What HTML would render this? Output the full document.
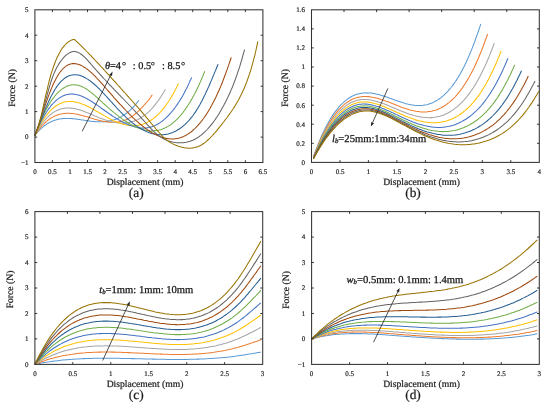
<!DOCTYPE html>
<html><head><meta charset="utf-8"><title>Force-displacement curves</title>
<style>
html,body{margin:0;padding:0;background:#fff;}
svg{display:block;}
text{font-family:"Liberation Serif","Noto Serif CJK SC",serif;fill:#1c1c1c;stroke:#1c1c1c;stroke-width:0.22px;text-rendering:geometricPrecision;}
.t{font-size:7px;stroke-width:0.18px;}
.l{font-size:9.65px;}
.s{font-size:13.4px;}
.an text{font-size:10.3px;fill:#111;stroke:#111;stroke-width:0.25px;}
.cv path{fill:none;stroke-width:1.05;stroke-linejoin:round;stroke-linecap:butt;}
</style></head><body>
<svg width="550" height="407" viewBox="0 0 550 407">
<rect width="550" height="407" fill="#fff"/>
<g class="cv">
<path d="M34.9 364.4L36.5 364.1L38.1 363.7L39.7 363.4L41.4 363.1L43.0 362.8L44.6 362.5L46.2 362.3L47.9 362.0L49.5 361.8L51.1 361.5L52.7 361.3L54.4 361.1L56.0 360.9L57.6 360.7L59.2 360.5L60.9 360.3L62.5 360.1L64.1 360.0L65.8 359.8L67.4 359.7L69.0 359.5L70.6 359.4L72.3 359.3L73.9 359.2L75.5 359.1L77.1 359.0L78.8 358.9L80.4 358.8L82.0 358.7L83.6 358.6L85.3 358.6L86.9 358.5L88.5 358.5L90.2 358.4L91.8 358.4L93.4 358.3L95.0 358.3L96.7 358.3L98.3 358.3L99.9 358.2L101.5 358.2L103.2 358.2L104.8 358.2L106.4 358.2L108.0 358.2L109.7 358.2L111.3 358.2L112.9 358.2L114.5 358.3L116.2 358.3L117.8 358.3L119.4 358.3L121.1 358.4L122.7 358.4L124.3 358.4L125.9 358.4L127.6 358.5L129.2 358.5L130.8 358.6L132.4 358.6L134.1 358.6L135.7 358.7L137.3 358.7L138.9 358.7L140.6 358.8L142.2 358.8L143.8 358.9L145.5 358.9L147.1 359.0L148.7 359.0L150.3 359.0L152.0 359.1L153.6 359.1L155.2 359.1L156.8 359.2L158.5 359.2L160.1 359.2L161.7 359.3L163.3 359.3L165.0 359.3L166.6 359.4L168.2 359.4L169.8 359.4L171.5 359.4L173.1 359.4L174.7 359.4L176.4 359.4L178.0 359.4L179.6 359.4L181.2 359.4L182.9 359.4L184.5 359.4L186.1 359.4L187.7 359.4L189.4 359.3L191.0 359.3L192.6 359.3L194.2 359.2L195.9 359.2L197.5 359.1L199.1 359.1L200.8 359.0L202.4 359.0L204.0 358.9L205.6 358.8L207.3 358.7L208.9 358.6L210.5 358.5L212.1 358.4L213.8 358.3L215.4 358.2L217.0 358.1L218.6 358.0L220.3 357.8L221.9 357.7L223.5 357.5L225.1 357.4L226.8 357.2L228.4 357.0L230.0 356.9L231.7 356.7L233.3 356.5L234.9 356.3L236.5 356.1L238.2 355.8L239.8 355.6L241.4 355.4L243.0 355.1L244.7 354.9L246.3 354.6L247.9 354.3L249.5 354.0L251.2 353.8L252.8 353.5L254.4 353.2L256.1 352.9L257.7 352.6L259.3 352.4L260.9 352.1" stroke="#5B9BD5"/>
<path d="M34.9 364.4L36.5 363.7L38.1 363.1L39.7 362.4L41.4 361.8L43.0 361.2L44.6 360.7L46.2 360.1L47.9 359.6L49.5 359.1L51.1 358.6L52.7 358.2L54.4 357.7L56.0 357.3L57.6 356.9L59.2 356.5L60.9 356.2L62.5 355.8L64.1 355.5L65.8 355.2L67.4 354.9L69.0 354.7L70.6 354.4L72.3 354.2L73.9 353.9L75.5 353.7L77.1 353.5L78.8 353.3L80.4 353.2L82.0 353.0L83.6 352.9L85.3 352.8L86.9 352.6L88.5 352.5L90.2 352.4L91.8 352.4L93.4 352.3L95.0 352.2L96.7 352.2L98.3 352.1L99.9 352.1L101.5 352.1L103.2 352.0L104.8 352.0L106.4 352.0L108.0 352.0L109.7 352.0L111.3 352.1L112.9 352.1L114.5 352.1L116.2 352.2L117.8 352.2L119.4 352.3L121.1 352.3L122.7 352.4L124.3 352.4L125.9 352.5L127.6 352.6L129.2 352.6L130.8 352.7L132.4 352.8L134.1 352.9L135.7 352.9L137.3 353.0L138.9 353.1L140.6 353.2L142.2 353.3L143.8 353.3L145.5 353.4L147.1 353.5L148.7 353.6L150.3 353.7L152.0 353.7L153.6 353.8L155.2 353.9L156.8 354.0L158.5 354.0L160.1 354.1L161.7 354.1L163.3 354.2L165.0 354.3L166.6 354.3L168.2 354.3L169.8 354.4L171.5 354.4L173.1 354.4L174.7 354.5L176.4 354.5L178.0 354.5L179.6 354.5L181.2 354.5L182.9 354.4L184.5 354.4L186.1 354.4L187.7 354.3L189.4 354.3L191.0 354.2L192.6 354.2L194.2 354.1L195.9 354.0L197.5 353.9L199.1 353.8L200.8 353.7L202.4 353.5L204.0 353.4L205.6 353.2L207.3 353.1L208.9 352.9L210.5 352.7L212.1 352.5L213.8 352.3L215.4 352.0L217.0 351.8L218.6 351.5L220.3 351.3L221.9 351.0L223.5 350.7L225.1 350.4L226.8 350.0L228.4 349.7L230.0 349.3L231.7 349.0L233.3 348.6L234.9 348.1L236.5 347.7L238.2 347.3L239.8 346.8L241.4 346.3L243.0 345.8L244.7 345.3L246.3 344.8L247.9 344.2L249.5 343.7L251.2 343.1L252.8 342.6L254.4 342.0L256.1 341.4L257.7 340.9L259.3 340.3L260.9 339.7" stroke="#ED7D31"/>
<path d="M34.9 364.4L36.5 363.4L38.1 362.4L39.7 361.4L41.4 360.5L43.0 359.6L44.6 358.8L46.2 358.0L47.9 357.2L49.5 356.5L51.1 355.7L52.7 355.1L54.4 354.4L56.0 353.8L57.6 353.2L59.2 352.6L60.9 352.1L62.5 351.6L64.1 351.1L65.8 350.6L67.4 350.2L69.0 349.8L70.6 349.4L72.3 349.0L73.9 348.7L75.5 348.4L77.1 348.1L78.8 347.8L80.4 347.6L82.0 347.3L83.6 347.1L85.3 346.9L86.9 346.8L88.5 346.6L90.2 346.5L91.8 346.3L93.4 346.2L95.0 346.1L96.7 346.0L98.3 346.0L99.9 345.9L101.5 345.9L103.2 345.9L104.8 345.8L106.4 345.8L108.0 345.9L109.7 345.9L111.3 345.9L112.9 345.9L114.5 346.0L116.2 346.0L117.8 346.1L119.4 346.2L121.1 346.3L122.7 346.3L124.3 346.4L125.9 346.5L127.6 346.6L129.2 346.7L130.8 346.9L132.4 347.0L134.1 347.1L135.7 347.2L137.3 347.3L138.9 347.4L140.6 347.6L142.2 347.7L143.8 347.8L145.5 347.9L147.1 348.1L148.7 348.2L150.3 348.3L152.0 348.4L153.6 348.5L155.2 348.6L156.8 348.7L158.5 348.8L160.1 348.9L161.7 349.0L163.3 349.1L165.0 349.2L166.6 349.3L168.2 349.3L169.8 349.4L171.5 349.4L173.1 349.4L174.7 349.5L176.4 349.5L178.0 349.5L179.6 349.5L181.2 349.5L182.9 349.5L184.5 349.4L186.1 349.4L187.7 349.3L189.4 349.2L191.0 349.1L192.6 349.0L194.2 348.9L195.9 348.8L197.5 348.6L199.1 348.5L200.8 348.3L202.4 348.1L204.0 347.9L205.6 347.6L207.3 347.4L208.9 347.1L210.5 346.8L212.1 346.5L213.8 346.2L215.4 345.9L217.0 345.5L218.6 345.1L220.3 344.7L221.9 344.3L223.5 343.8L225.1 343.4L226.8 342.9L228.4 342.3L230.0 341.8L231.7 341.2L233.3 340.6L234.9 340.0L236.5 339.4L238.2 338.7L239.8 338.0L241.4 337.3L243.0 336.5L244.7 335.8L246.3 335.0L247.9 334.2L249.5 333.3L251.2 332.5L252.8 331.7L254.4 330.8L256.1 330.0L257.7 329.1L259.3 328.3L260.9 327.4" stroke="#A5A5A5"/>
<path d="M34.9 364.4L36.5 363.0L38.1 361.7L39.7 360.5L41.4 359.2L43.0 358.1L44.6 356.9L46.2 355.8L47.9 354.8L49.5 353.8L51.1 352.9L52.7 351.9L54.4 351.1L56.0 350.2L57.6 349.4L59.2 348.7L60.9 348.0L62.5 347.3L64.1 346.6L65.8 346.0L67.4 345.5L69.0 344.9L70.6 344.4L72.3 343.9L73.9 343.5L75.5 343.0L77.1 342.7L78.8 342.3L80.4 342.0L82.0 341.7L83.6 341.4L85.3 341.1L86.9 340.9L88.5 340.7L90.2 340.5L91.8 340.3L93.4 340.2L95.0 340.0L96.7 339.9L98.3 339.8L99.9 339.8L101.5 339.7L103.2 339.7L104.8 339.7L106.4 339.7L108.0 339.7L109.7 339.7L111.3 339.7L112.9 339.8L114.5 339.9L116.2 339.9L117.8 340.0L119.4 340.1L121.1 340.2L122.7 340.3L124.3 340.4L125.9 340.6L127.6 340.7L129.2 340.9L130.8 341.0L132.4 341.2L134.1 341.3L135.7 341.5L137.3 341.6L138.9 341.8L140.6 342.0L142.2 342.1L143.8 342.3L145.5 342.5L147.1 342.6L148.7 342.8L150.3 342.9L152.0 343.1L153.6 343.2L155.2 343.4L156.8 343.5L158.5 343.7L160.1 343.8L161.7 343.9L163.3 344.0L165.0 344.1L166.6 344.2L168.2 344.3L169.8 344.4L171.5 344.4L173.1 344.5L174.7 344.5L176.4 344.5L178.0 344.5L179.6 344.5L181.2 344.5L182.9 344.5L184.5 344.4L186.1 344.4L187.7 344.3L189.4 344.2L191.0 344.0L192.6 343.9L194.2 343.8L195.9 343.6L197.5 343.4L199.1 343.2L200.8 342.9L202.4 342.7L204.0 342.4L205.6 342.1L207.3 341.7L208.9 341.4L210.5 341.0L212.1 340.6L213.8 340.2L215.4 339.7L217.0 339.2L218.6 338.7L220.3 338.1L221.9 337.6L223.5 337.0L225.1 336.3L226.8 335.7L228.4 335.0L230.0 334.3L231.7 333.5L233.3 332.7L234.9 331.9L236.5 331.0L238.2 330.1L239.8 329.2L241.4 328.3L243.0 327.3L244.7 326.2L246.3 325.2L247.9 324.1L249.5 323.0L251.2 321.9L252.8 320.7L254.4 319.6L256.1 318.5L257.7 317.3L259.3 316.2L260.9 315.1" stroke="#FFC000"/>
<path d="M34.9 364.4L36.5 362.7L38.1 361.0L39.7 359.5L41.4 357.9L43.0 356.5L44.6 355.1L46.2 353.7L47.9 352.4L49.5 351.2L51.1 350.0L52.7 348.8L54.4 347.7L56.0 346.7L57.6 345.7L59.2 344.8L60.9 343.9L62.5 343.0L64.1 342.2L65.8 341.4L67.4 340.7L69.0 340.0L70.6 339.4L72.3 338.8L73.9 338.2L75.5 337.7L77.1 337.2L78.8 336.8L80.4 336.4L82.0 336.0L83.6 335.6L85.3 335.3L86.9 335.0L88.5 334.7L90.2 334.5L91.8 334.3L93.4 334.1L95.0 333.9L96.7 333.8L98.3 333.7L99.9 333.6L101.5 333.6L103.2 333.5L104.8 333.5L106.4 333.5L108.0 333.5L109.7 333.5L111.3 333.6L112.9 333.6L114.5 333.7L116.2 333.8L117.8 333.9L119.4 334.0L121.1 334.2L122.7 334.3L124.3 334.5L125.9 334.6L127.6 334.8L129.2 335.0L130.8 335.2L132.4 335.3L134.1 335.5L135.7 335.7L137.3 335.9L138.9 336.1L140.6 336.3L142.2 336.6L143.8 336.8L145.5 337.0L147.1 337.2L148.7 337.4L150.3 337.6L152.0 337.8L153.6 337.9L155.2 338.1L156.8 338.3L158.5 338.5L160.1 338.6L161.7 338.8L163.3 338.9L165.0 339.0L166.6 339.2L168.2 339.3L169.8 339.3L171.5 339.4L173.1 339.5L174.7 339.5L176.4 339.6L178.0 339.6L179.6 339.6L181.2 339.5L182.9 339.5L184.5 339.4L186.1 339.3L187.7 339.2L189.4 339.1L191.0 339.0L192.6 338.8L194.2 338.6L195.9 338.4L197.5 338.1L199.1 337.8L200.8 337.5L202.4 337.2L204.0 336.9L205.6 336.5L207.3 336.1L208.9 335.6L210.5 335.1L212.1 334.6L213.8 334.1L215.4 333.5L217.0 332.9L218.6 332.3L220.3 331.6L221.9 330.9L223.5 330.1L225.1 329.3L226.8 328.5L228.4 327.6L230.0 326.7L231.7 325.8L233.3 324.8L234.9 323.8L236.5 322.7L238.2 321.6L239.8 320.4L241.4 319.2L243.0 318.0L244.7 316.7L246.3 315.4L247.9 314.0L249.5 312.6L251.2 311.2L252.8 309.8L254.4 308.4L256.1 307.0L257.7 305.6L259.3 304.2L260.9 302.8" stroke="#4472C4"/>
<path d="M34.9 364.4L36.5 362.4L38.1 360.4L39.7 358.5L41.4 356.6L43.0 354.9L44.6 353.2L46.2 351.6L47.9 350.0L49.5 348.5L51.1 347.1L52.7 345.7L54.4 344.4L56.0 343.2L57.6 342.0L59.2 340.8L60.9 339.8L62.5 338.7L64.1 337.8L65.8 336.8L67.4 336.0L69.0 335.2L70.6 334.4L72.3 333.7L73.9 333.0L75.5 332.4L77.1 331.8L78.8 331.2L80.4 330.7L82.0 330.3L83.6 329.9L85.3 329.5L86.9 329.1L88.5 328.8L90.2 328.5L91.8 328.3L93.4 328.0L95.0 327.9L96.7 327.7L98.3 327.6L99.9 327.5L101.5 327.4L103.2 327.3L104.8 327.3L106.4 327.3L108.0 327.3L109.7 327.3L111.3 327.4L112.9 327.5L114.5 327.6L116.2 327.7L117.8 327.8L119.4 328.0L121.1 328.1L122.7 328.3L124.3 328.5L125.9 328.7L127.6 328.9L129.2 329.1L130.8 329.3L132.4 329.5L134.1 329.8L135.7 330.0L137.3 330.2L138.9 330.5L140.6 330.7L142.2 331.0L143.8 331.2L145.5 331.5L147.1 331.7L148.7 332.0L150.3 332.2L152.0 332.4L153.6 332.7L155.2 332.9L156.8 333.1L158.5 333.3L160.1 333.5L161.7 333.6L163.3 333.8L165.0 334.0L166.6 334.1L168.2 334.2L169.8 334.3L171.5 334.4L173.1 334.5L174.7 334.6L176.4 334.6L178.0 334.6L179.6 334.6L181.2 334.6L182.9 334.5L184.5 334.4L186.1 334.3L187.7 334.2L189.4 334.1L191.0 333.9L192.6 333.7L194.2 333.4L195.9 333.2L197.5 332.9L199.1 332.5L200.8 332.2L202.4 331.8L204.0 331.4L205.6 330.9L207.3 330.4L208.9 329.9L210.5 329.3L212.1 328.7L213.8 328.0L215.4 327.3L217.0 326.6L218.6 325.8L220.3 325.0L221.9 324.2L223.5 323.3L225.1 322.3L226.8 321.3L228.4 320.3L230.0 319.2L231.7 318.1L233.3 316.9L234.9 315.6L236.5 314.3L238.2 313.0L239.8 311.6L241.4 310.2L243.0 308.7L244.7 307.1L246.3 305.6L247.9 303.9L249.5 302.3L251.2 300.6L252.8 298.9L254.4 297.2L256.1 295.5L257.7 293.8L259.3 292.1L260.9 290.4" stroke="#70AD47"/>
<path d="M34.9 364.4L36.5 362.0L38.1 359.7L39.7 357.5L41.4 355.4L43.0 353.3L44.6 351.3L46.2 349.4L47.9 347.6L49.5 345.9L51.1 344.2L52.7 342.6L54.4 341.1L56.0 339.6L57.6 338.2L59.2 336.9L60.9 335.6L62.5 334.5L64.1 333.3L65.8 332.3L67.4 331.2L69.0 330.3L70.6 329.4L72.3 328.6L73.9 327.8L75.5 327.0L77.1 326.4L78.8 325.7L80.4 325.1L82.0 324.6L83.6 324.1L85.3 323.6L86.9 323.2L88.5 322.9L90.2 322.5L91.8 322.2L93.4 322.0L95.0 321.8L96.7 321.6L98.3 321.4L99.9 321.3L101.5 321.2L103.2 321.1L104.8 321.1L106.4 321.1L108.0 321.1L109.7 321.2L111.3 321.2L112.9 321.3L114.5 321.4L116.2 321.6L117.8 321.7L119.4 321.9L121.1 322.1L122.7 322.3L124.3 322.5L125.9 322.7L127.6 322.9L129.2 323.2L130.8 323.5L132.4 323.7L134.1 324.0L135.7 324.3L137.3 324.6L138.9 324.8L140.6 325.1L142.2 325.4L143.8 325.7L145.5 326.0L147.1 326.3L148.7 326.6L150.3 326.8L152.0 327.1L153.6 327.4L155.2 327.6L156.8 327.9L158.5 328.1L160.1 328.3L161.7 328.5L163.3 328.7L165.0 328.9L166.6 329.1L168.2 329.2L169.8 329.3L171.5 329.4L173.1 329.5L174.7 329.6L176.4 329.6L178.0 329.6L179.6 329.6L181.2 329.6L182.9 329.5L184.5 329.4L186.1 329.3L187.7 329.2L189.4 329.0L191.0 328.8L192.6 328.5L194.2 328.3L195.9 328.0L197.5 327.6L199.1 327.2L200.8 326.8L202.4 326.3L204.0 325.8L205.6 325.3L207.3 324.7L208.9 324.1L210.5 323.4L212.1 322.7L213.8 322.0L215.4 321.2L217.0 320.3L218.6 319.4L220.3 318.5L221.9 317.5L223.5 316.4L225.1 315.3L226.8 314.1L228.4 312.9L230.0 311.7L231.7 310.3L233.3 308.9L234.9 307.5L236.5 306.0L238.2 304.4L239.8 302.8L241.4 301.1L243.0 299.4L244.7 297.6L246.3 295.7L247.9 293.9L249.5 291.9L251.2 290.0L252.8 288.0L254.4 286.0L256.1 284.0L257.7 282.1L259.3 280.1L260.9 278.1" stroke="#255E91"/>
<path d="M34.9 364.4L36.5 361.7L38.1 359.0L39.7 356.5L41.4 354.1L43.0 351.7L44.6 349.5L46.2 347.3L47.9 345.2L49.5 343.2L51.1 341.3L52.7 339.5L54.4 337.7L56.0 336.1L57.6 334.5L59.2 333.0L60.9 331.5L62.5 330.2L64.1 328.9L65.8 327.7L67.4 326.5L69.0 325.4L70.6 324.4L72.3 323.4L73.9 322.5L75.5 321.7L77.1 320.9L78.8 320.2L80.4 319.5L82.0 318.9L83.6 318.3L85.3 317.8L86.9 317.4L88.5 316.9L90.2 316.6L91.8 316.2L93.4 315.9L95.0 315.7L96.7 315.5L98.3 315.3L99.9 315.1L101.5 315.0L103.2 315.0L104.8 314.9L106.4 314.9L108.0 314.9L109.7 315.0L111.3 315.1L112.9 315.2L114.5 315.3L116.2 315.5L117.8 315.6L119.4 315.8L121.1 316.0L122.7 316.3L124.3 316.5L125.9 316.8L127.6 317.0L129.2 317.3L130.8 317.6L132.4 317.9L134.1 318.2L135.7 318.5L137.3 318.9L138.9 319.2L140.6 319.5L142.2 319.8L143.8 320.2L145.5 320.5L147.1 320.8L148.7 321.2L150.3 321.5L152.0 321.8L153.6 322.1L155.2 322.4L156.8 322.6L158.5 322.9L160.1 323.2L161.7 323.4L163.3 323.6L165.0 323.8L166.6 324.0L168.2 324.2L169.8 324.3L171.5 324.4L173.1 324.5L174.7 324.6L176.4 324.6L178.0 324.7L179.6 324.7L181.2 324.6L182.9 324.5L184.5 324.4L186.1 324.3L187.7 324.1L189.4 323.9L191.0 323.7L192.6 323.4L194.2 323.1L195.9 322.8L197.5 322.4L199.1 321.9L200.8 321.4L202.4 320.9L204.0 320.3L205.6 319.7L207.3 319.1L208.9 318.3L210.5 317.6L212.1 316.8L213.8 315.9L215.4 315.0L217.0 314.0L218.6 313.0L220.3 311.9L221.9 310.7L223.5 309.5L225.1 308.3L226.8 307.0L228.4 305.6L230.0 304.1L231.7 302.6L233.3 301.0L234.9 299.4L236.5 297.7L238.2 295.9L239.8 294.0L241.4 292.1L243.0 290.1L244.7 288.1L246.3 285.9L247.9 283.8L249.5 281.6L251.2 279.3L252.8 277.1L254.4 274.8L256.1 272.6L257.7 270.3L259.3 268.0L260.9 265.8" stroke="#9E480E"/>
<path d="M34.9 364.4L36.5 361.3L38.1 358.4L39.7 355.5L41.4 352.8L43.0 350.1L44.6 347.6L46.2 345.1L47.9 342.8L49.5 340.6L51.1 338.4L52.7 336.4L54.4 334.4L56.0 332.5L57.6 330.7L59.2 329.0L60.9 327.4L62.5 325.9L64.1 324.4L65.8 323.1L67.4 321.8L69.0 320.5L70.6 319.4L72.3 318.3L73.9 317.3L75.5 316.4L77.1 315.5L78.8 314.7L80.4 313.9L82.0 313.2L83.6 312.6L85.3 312.0L86.9 311.5L88.5 311.0L90.2 310.6L91.8 310.2L93.4 309.9L95.0 309.6L96.7 309.3L98.3 309.1L99.9 309.0L101.5 308.9L103.2 308.8L104.8 308.7L106.4 308.7L108.0 308.8L109.7 308.8L111.3 308.9L112.9 309.0L114.5 309.2L116.2 309.3L117.8 309.5L119.4 309.7L121.1 310.0L122.7 310.2L124.3 310.5L125.9 310.8L127.6 311.1L129.2 311.4L130.8 311.8L132.4 312.1L134.1 312.4L135.7 312.8L137.3 313.2L138.9 313.5L140.6 313.9L142.2 314.3L143.8 314.6L145.5 315.0L147.1 315.4L148.7 315.7L150.3 316.1L152.0 316.4L153.6 316.8L155.2 317.1L156.8 317.4L158.5 317.7L160.1 318.0L161.7 318.3L163.3 318.5L165.0 318.8L166.6 319.0L168.2 319.1L169.8 319.3L171.5 319.4L173.1 319.5L174.7 319.6L176.4 319.7L178.0 319.7L179.6 319.7L181.2 319.6L182.9 319.6L184.5 319.4L186.1 319.3L187.7 319.1L189.4 318.9L191.0 318.6L192.6 318.3L194.2 317.9L195.9 317.5L197.5 317.1L199.1 316.6L200.8 316.1L202.4 315.5L204.0 314.8L205.6 314.1L207.3 313.4L208.9 312.6L210.5 311.7L212.1 310.8L213.8 309.8L215.4 308.8L217.0 307.7L218.6 306.6L220.3 305.3L221.9 304.0L223.5 302.7L225.1 301.3L226.8 299.8L228.4 298.2L230.0 296.6L231.7 294.9L233.3 293.1L234.9 291.3L236.5 289.3L238.2 287.3L239.8 285.2L241.4 283.1L243.0 280.8L244.7 278.5L246.3 276.1L247.9 273.7L249.5 271.2L251.2 268.7L252.8 266.2L254.4 263.6L256.1 261.1L257.7 258.5L259.3 256.0L260.9 253.5" stroke="#636363"/>
<path d="M34.9 364.4L36.5 361.0L38.1 357.7L39.7 354.5L41.4 351.5L43.0 348.5L44.6 345.7L46.2 343.0L47.9 340.4L49.5 337.9L51.1 335.5L52.7 333.2L54.4 331.1L56.0 329.0L57.6 327.0L59.2 325.1L60.9 323.3L62.5 321.6L64.1 320.0L65.8 318.5L67.4 317.0L69.0 315.7L70.6 314.4L72.3 313.2L73.9 312.1L75.5 311.0L77.1 310.0L78.8 309.1L80.4 308.3L82.0 307.5L83.6 306.8L85.3 306.2L86.9 305.6L88.5 305.1L90.2 304.6L91.8 304.2L93.4 303.8L95.0 303.5L96.7 303.2L98.3 303.0L99.9 302.8L101.5 302.7L103.2 302.6L104.8 302.6L106.4 302.6L108.0 302.6L109.7 302.6L111.3 302.7L112.9 302.9L114.5 303.0L116.2 303.2L117.8 303.4L119.4 303.7L121.1 303.9L122.7 304.2L124.3 304.5L125.9 304.8L127.6 305.2L129.2 305.5L130.8 305.9L132.4 306.3L134.1 306.7L135.7 307.1L137.3 307.5L138.9 307.9L140.6 308.3L142.2 308.7L143.8 309.1L145.5 309.5L147.1 309.9L148.7 310.3L150.3 310.7L152.0 311.1L153.6 311.5L155.2 311.9L156.8 312.2L158.5 312.5L160.1 312.9L161.7 313.1L163.3 313.4L165.0 313.7L166.6 313.9L168.2 314.1L169.8 314.3L171.5 314.4L173.1 314.6L174.7 314.7L176.4 314.7L178.0 314.7L179.6 314.7L181.2 314.7L182.9 314.6L184.5 314.5L186.1 314.3L187.7 314.1L189.4 313.8L191.0 313.5L192.6 313.2L194.2 312.8L195.9 312.3L197.5 311.8L199.1 311.3L200.8 310.7L202.4 310.0L204.0 309.3L205.6 308.6L207.3 307.7L208.9 306.8L210.5 305.9L212.1 304.9L213.8 303.8L215.4 302.6L217.0 301.4L218.6 300.1L220.3 298.8L221.9 297.3L223.5 295.8L225.1 294.3L226.8 292.6L228.4 290.9L230.0 289.0L231.7 287.2L233.3 285.2L234.9 283.1L236.5 281.0L238.2 278.8L239.8 276.4L241.4 274.0L243.0 271.5L244.7 269.0L246.3 266.3L247.9 263.6L249.5 260.9L251.2 258.1L252.8 255.3L254.4 252.4L256.1 249.6L257.7 246.8L259.3 243.9L260.9 241.1" stroke="#997300"/>
<path d="M311.6 338.9L313.2 338.5L314.8 338.1L316.5 337.7L318.1 337.3L319.7 336.9L321.3 336.6L323.0 336.3L324.6 336.0L326.2 335.7L327.8 335.5L329.5 335.2L331.1 335.0L332.7 334.8L334.3 334.6L336.0 334.5L337.6 334.3L339.2 334.2L340.8 334.1L342.5 334.0L344.1 333.9L345.7 333.8L347.3 333.7L349.0 333.7L350.6 333.6L352.2 333.6L353.8 333.6L355.4 333.6L357.1 333.6L358.7 333.6L360.3 333.6L361.9 333.6L363.6 333.7L365.2 333.7L366.8 333.8L368.4 333.9L370.1 333.9L371.7 334.0L373.3 334.1L374.9 334.2L376.6 334.3L378.2 334.4L379.8 334.5L381.4 334.6L383.1 334.7L384.7 334.8L386.3 334.9L387.9 335.1L389.5 335.2L391.2 335.3L392.8 335.4L394.4 335.6L396.0 335.7L397.7 335.8L399.3 335.9L400.9 336.0L402.5 336.2L404.2 336.3L405.8 336.4L407.4 336.5L409.0 336.6L410.7 336.8L412.3 336.9L413.9 337.0L415.5 337.1L417.2 337.2L418.8 337.3L420.4 337.4L422.0 337.5L423.7 337.6L425.3 337.7L426.9 337.8L428.5 337.9L430.1 338.0L431.8 338.1L433.4 338.2L435.0 338.3L436.6 338.3L438.3 338.4L439.9 338.5L441.5 338.6L443.1 338.6L444.8 338.7L446.4 338.8L448.0 338.8L449.6 338.9L451.3 338.9L452.9 339.0L454.5 339.0L456.1 339.1L457.8 339.1L459.4 339.1L461.0 339.2L462.6 339.2L464.2 339.2L465.9 339.2L467.5 339.2L469.1 339.2L470.7 339.2L472.4 339.2L474.0 339.2L475.6 339.2L477.2 339.2L478.9 339.2L480.5 339.1L482.1 339.1L483.7 339.1L485.4 339.0L487.0 339.0L488.6 338.9L490.2 338.8L491.9 338.8L493.5 338.7L495.1 338.6L496.7 338.5L498.4 338.4L500.0 338.3L501.6 338.2L503.2 338.1L504.8 337.9L506.5 337.8L508.1 337.7L509.7 337.5L511.3 337.4L513.0 337.2L514.6 337.0L516.2 336.9L517.8 336.7L519.5 336.5L521.1 336.3L522.7 336.1L524.3 335.9L526.0 335.6L527.6 335.4L529.2 335.2L530.8 334.9L532.5 334.7L534.1 334.4L535.7 334.1L537.3 333.8" stroke="#5B9BD5"/>
<path d="M311.6 338.9L313.2 338.4L314.8 337.9L316.5 337.4L318.1 336.9L319.7 336.5L321.3 336.1L323.0 335.7L324.6 335.3L326.2 335.0L327.8 334.7L329.5 334.3L331.1 334.1L332.7 333.8L334.3 333.6L336.0 333.4L337.6 333.1L339.2 333.0L340.8 332.8L342.5 332.7L344.1 332.5L345.7 332.4L347.3 332.3L349.0 332.2L350.6 332.2L352.2 332.1L353.8 332.1L355.4 332.0L357.1 332.0L358.7 332.0L360.3 332.0L361.9 332.0L363.6 332.1L365.2 332.1L366.8 332.2L368.4 332.2L370.1 332.3L371.7 332.4L373.3 332.5L374.9 332.5L376.6 332.6L378.2 332.7L379.8 332.8L381.4 333.0L383.1 333.1L384.7 333.2L386.3 333.3L387.9 333.4L389.5 333.6L391.2 333.7L392.8 333.8L394.4 334.0L396.0 334.1L397.7 334.2L399.3 334.4L400.9 334.5L402.5 334.6L404.2 334.7L405.8 334.9L407.4 335.0L409.0 335.1L410.7 335.2L412.3 335.4L413.9 335.5L415.5 335.6L417.2 335.7L418.8 335.8L420.4 336.0L422.0 336.1L423.7 336.2L425.3 336.3L426.9 336.4L428.5 336.5L430.1 336.6L431.8 336.7L433.4 336.8L435.0 336.9L436.6 337.0L438.3 337.0L439.9 337.1L441.5 337.2L443.1 337.3L444.8 337.3L446.4 337.4L448.0 337.4L449.6 337.5L451.3 337.6L452.9 337.6L454.5 337.6L456.1 337.7L457.8 337.7L459.4 337.7L461.0 337.7L462.6 337.8L464.2 337.8L465.9 337.8L467.5 337.8L469.1 337.8L470.7 337.7L472.4 337.7L474.0 337.7L475.6 337.7L477.2 337.6L478.9 337.6L480.5 337.5L482.1 337.5L483.7 337.4L485.4 337.3L487.0 337.2L488.6 337.1L490.2 337.1L491.9 336.9L493.5 336.8L495.1 336.7L496.7 336.6L498.4 336.5L500.0 336.3L501.6 336.2L503.2 336.0L504.8 335.8L506.5 335.6L508.1 335.5L509.7 335.3L511.3 335.1L513.0 334.8L514.6 334.6L516.2 334.4L517.8 334.2L519.5 333.9L521.1 333.6L522.7 333.4L524.3 333.1L526.0 332.8L527.6 332.5L529.2 332.2L530.8 331.9L532.5 331.5L534.1 331.2L535.7 330.8L537.3 330.5" stroke="#ED7D31"/>
<path d="M311.6 338.9L313.2 338.3L314.8 337.7L316.5 337.1L318.1 336.5L319.7 336.0L321.3 335.5L323.0 335.0L324.6 334.6L326.2 334.1L327.8 333.7L329.5 333.4L331.1 333.0L332.7 332.7L334.3 332.4L336.0 332.1L337.6 331.8L339.2 331.6L340.8 331.4L342.5 331.2L344.1 331.0L345.7 330.9L347.3 330.7L349.0 330.6L350.6 330.5L352.2 330.4L353.8 330.3L355.4 330.3L357.1 330.2L358.7 330.2L360.3 330.2L361.9 330.2L363.6 330.2L365.2 330.2L366.8 330.2L368.4 330.2L370.1 330.3L371.7 330.4L373.3 330.4L374.9 330.5L376.6 330.6L378.2 330.7L379.8 330.8L381.4 330.9L383.1 331.0L384.7 331.1L386.3 331.2L387.9 331.3L389.5 331.5L391.2 331.6L392.8 331.7L394.4 331.9L396.0 332.0L397.7 332.1L399.3 332.2L400.9 332.4L402.5 332.5L404.2 332.6L405.8 332.8L407.4 332.9L409.0 333.0L410.7 333.1L412.3 333.3L413.9 333.4L415.5 333.5L417.2 333.6L418.8 333.7L420.4 333.9L422.0 334.0L423.7 334.1L425.3 334.2L426.9 334.3L428.5 334.4L430.1 334.5L431.8 334.6L433.4 334.7L435.0 334.8L436.6 334.9L438.3 334.9L439.9 335.0L441.5 335.1L443.1 335.1L444.8 335.2L446.4 335.3L448.0 335.3L449.6 335.4L451.3 335.4L452.9 335.4L454.5 335.5L456.1 335.5L457.8 335.5L459.4 335.5L461.0 335.5L462.6 335.5L464.2 335.5L465.9 335.5L467.5 335.5L469.1 335.4L470.7 335.4L472.4 335.4L474.0 335.3L475.6 335.2L477.2 335.2L478.9 335.1L480.5 335.0L482.1 334.9L483.7 334.8L485.4 334.7L487.0 334.6L488.6 334.5L490.2 334.3L491.9 334.2L493.5 334.0L495.1 333.9L496.7 333.7L498.4 333.5L500.0 333.3L501.6 333.1L503.2 332.9L504.8 332.7L506.5 332.4L508.1 332.2L509.7 331.9L511.3 331.7L513.0 331.4L514.6 331.1L516.2 330.8L517.8 330.5L519.5 330.2L521.1 329.8L522.7 329.5L524.3 329.1L526.0 328.8L527.6 328.4L529.2 328.0L530.8 327.6L532.5 327.2L534.1 326.7L535.7 326.3L537.3 325.8" stroke="#A5A5A5"/>
<path d="M311.6 338.9L313.2 338.2L314.8 337.4L316.5 336.7L318.1 336.1L319.7 335.5L321.3 334.9L323.0 334.3L324.6 333.7L326.2 333.2L327.8 332.7L329.5 332.3L331.1 331.9L332.7 331.4L334.3 331.1L336.0 330.7L337.6 330.4L339.2 330.1L340.8 329.8L342.5 329.5L344.1 329.3L345.7 329.1L347.3 328.9L349.0 328.7L350.6 328.5L352.2 328.4L353.8 328.3L355.4 328.2L357.1 328.1L358.7 328.0L360.3 328.0L361.9 327.9L363.6 327.9L365.2 327.9L366.8 327.9L368.4 327.9L370.1 327.9L371.7 327.9L373.3 328.0L374.9 328.0L376.6 328.1L378.2 328.1L379.8 328.2L381.4 328.3L383.1 328.4L384.7 328.5L386.3 328.6L387.9 328.7L389.5 328.8L391.2 328.9L392.8 329.0L394.4 329.2L396.0 329.3L397.7 329.4L399.3 329.5L400.9 329.6L402.5 329.8L404.2 329.9L405.8 330.0L407.4 330.1L409.0 330.2L410.7 330.4L412.3 330.5L413.9 330.6L415.5 330.7L417.2 330.8L418.8 330.9L420.4 331.0L422.0 331.1L423.7 331.2L425.3 331.3L426.9 331.4L428.5 331.5L430.1 331.6L431.8 331.7L433.4 331.8L435.0 331.9L436.6 331.9L438.3 332.0L439.9 332.1L441.5 332.1L443.1 332.2L444.8 332.2L446.4 332.3L448.0 332.3L449.6 332.3L451.3 332.4L452.9 332.4L454.5 332.4L456.1 332.4L457.8 332.4L459.4 332.4L461.0 332.4L462.6 332.3L464.2 332.3L465.9 332.3L467.5 332.2L469.1 332.1L470.7 332.1L472.4 332.0L474.0 331.9L475.6 331.8L477.2 331.7L478.9 331.6L480.5 331.5L482.1 331.3L483.7 331.2L485.4 331.0L487.0 330.8L488.6 330.7L490.2 330.5L491.9 330.3L493.5 330.1L495.1 329.9L496.7 329.6L498.4 329.4L500.0 329.1L501.6 328.9L503.2 328.6L504.8 328.3L506.5 328.0L508.1 327.7L509.7 327.3L511.3 327.0L513.0 326.6L514.6 326.3L516.2 325.9L517.8 325.5L519.5 325.1L521.1 324.7L522.7 324.2L524.3 323.8L526.0 323.3L527.6 322.9L529.2 322.4L530.8 321.9L532.5 321.4L534.1 320.8L535.7 320.3L537.3 319.7" stroke="#FFC000"/>
<path d="M311.6 338.9L313.2 338.0L314.8 337.2L316.5 336.4L318.1 335.6L319.7 334.9L321.3 334.2L323.0 333.5L324.6 332.8L326.2 332.2L327.8 331.6L329.5 331.1L331.1 330.6L332.7 330.1L334.3 329.6L336.0 329.2L337.6 328.7L339.2 328.4L340.8 328.0L342.5 327.7L344.1 327.3L345.7 327.1L347.3 326.8L349.0 326.5L350.6 326.3L352.2 326.1L353.8 325.9L355.4 325.8L357.1 325.6L358.7 325.5L360.3 325.4L361.9 325.3L363.6 325.2L365.2 325.1L366.8 325.1L368.4 325.0L370.1 325.0L371.7 325.0L373.3 325.0L374.9 325.0L376.6 325.0L378.2 325.1L379.8 325.1L381.4 325.2L383.1 325.2L384.7 325.3L386.3 325.4L387.9 325.4L389.5 325.5L391.2 325.6L392.8 325.7L394.4 325.8L396.0 325.9L397.7 326.0L399.3 326.1L400.9 326.2L402.5 326.3L404.2 326.4L405.8 326.5L407.4 326.6L409.0 326.7L410.7 326.8L412.3 326.9L413.9 327.0L415.5 327.1L417.2 327.2L418.8 327.3L420.4 327.4L422.0 327.5L423.7 327.5L425.3 327.6L426.9 327.7L428.5 327.8L430.1 327.9L431.8 327.9L433.4 328.0L435.0 328.0L436.6 328.1L438.3 328.2L439.9 328.2L441.5 328.2L443.1 328.3L444.8 328.3L446.4 328.3L448.0 328.3L449.6 328.3L451.3 328.3L452.9 328.3L454.5 328.3L456.1 328.3L457.8 328.2L459.4 328.2L461.0 328.1L462.6 328.1L464.2 328.0L465.9 327.9L467.5 327.8L469.1 327.7L470.7 327.6L472.4 327.5L474.0 327.3L475.6 327.2L477.2 327.0L478.9 326.9L480.5 326.7L482.1 326.5L483.7 326.3L485.4 326.1L487.0 325.9L488.6 325.6L490.2 325.4L491.9 325.1L493.5 324.8L495.1 324.5L496.7 324.2L498.4 323.9L500.0 323.6L501.6 323.2L503.2 322.9L504.8 322.5L506.5 322.1L508.1 321.7L509.7 321.3L511.3 320.9L513.0 320.4L514.6 320.0L516.2 319.5L517.8 319.0L519.5 318.5L521.1 318.0L522.7 317.4L524.3 316.9L526.0 316.3L527.6 315.7L529.2 315.1L530.8 314.5L532.5 313.9L534.1 313.2L535.7 312.6L537.3 311.9" stroke="#4472C4"/>
<path d="M311.6 338.9L313.2 337.9L314.8 336.9L316.5 336.0L318.1 335.1L319.7 334.2L321.3 333.4L323.0 332.6L324.6 331.8L326.2 331.1L327.8 330.4L329.5 329.8L331.1 329.1L332.7 328.5L334.3 328.0L336.0 327.4L337.6 326.9L339.2 326.4L340.8 326.0L342.5 325.5L344.1 325.1L345.7 324.8L347.3 324.4L349.0 324.1L350.6 323.8L352.2 323.5L353.8 323.2L355.4 323.0L357.1 322.7L358.7 322.5L360.3 322.4L361.9 322.2L363.6 322.1L365.2 321.9L366.8 321.8L368.4 321.7L370.1 321.6L371.7 321.6L373.3 321.5L374.9 321.5L376.6 321.4L378.2 321.4L379.8 321.4L381.4 321.4L383.1 321.4L384.7 321.4L386.3 321.4L387.9 321.5L389.5 321.5L391.2 321.6L392.8 321.6L394.4 321.7L396.0 321.7L397.7 321.8L399.3 321.8L400.9 321.9L402.5 322.0L404.2 322.0L405.8 322.1L407.4 322.2L409.0 322.3L410.7 322.3L412.3 322.4L413.9 322.5L415.5 322.5L417.2 322.6L418.8 322.7L420.4 322.7L422.0 322.8L423.7 322.9L425.3 322.9L426.9 323.0L428.5 323.0L430.1 323.1L431.8 323.1L433.4 323.2L435.0 323.2L436.6 323.2L438.3 323.2L439.9 323.2L441.5 323.3L443.1 323.3L444.8 323.2L446.4 323.2L448.0 323.2L449.6 323.2L451.3 323.1L452.9 323.1L454.5 323.0L456.1 323.0L457.8 322.9L459.4 322.8L461.0 322.7L462.6 322.6L464.2 322.5L465.9 322.3L467.5 322.2L469.1 322.0L470.7 321.9L472.4 321.7L474.0 321.5L475.6 321.3L477.2 321.1L478.9 320.8L480.5 320.6L482.1 320.3L483.7 320.1L485.4 319.8L487.0 319.5L488.6 319.1L490.2 318.8L491.9 318.5L493.5 318.1L495.1 317.7L496.7 317.3L498.4 316.9L500.0 316.5L501.6 316.1L503.2 315.6L504.8 315.2L506.5 314.7L508.1 314.2L509.7 313.7L511.3 313.1L513.0 312.6L514.6 312.0L516.2 311.4L517.8 310.8L519.5 310.2L521.1 309.5L522.7 308.9L524.3 308.2L526.0 307.5L527.6 306.8L529.2 306.1L530.8 305.3L532.5 304.6L534.1 303.8L535.7 303.0L537.3 302.1" stroke="#70AD47"/>
<path d="M311.6 338.9L313.2 337.8L314.8 336.7L316.5 335.6L318.1 334.5L319.7 333.5L321.3 332.6L323.0 331.6L324.6 330.8L326.2 329.9L327.8 329.1L329.5 328.3L331.1 327.5L332.7 326.8L334.3 326.1L336.0 325.5L337.6 324.8L339.2 324.2L340.8 323.7L342.5 323.1L344.1 322.6L345.7 322.1L347.3 321.7L349.0 321.3L350.6 320.8L352.2 320.5L353.8 320.1L355.4 319.8L357.1 319.4L358.7 319.2L360.3 318.9L361.9 318.6L363.6 318.4L365.2 318.2L366.8 318.0L368.4 317.8L370.1 317.6L371.7 317.5L373.3 317.4L374.9 317.2L376.6 317.1L378.2 317.0L379.8 317.0L381.4 316.9L383.1 316.8L384.7 316.8L386.3 316.8L387.9 316.7L389.5 316.7L391.2 316.7L392.8 316.7L394.4 316.7L396.0 316.7L397.7 316.7L399.3 316.7L400.9 316.7L402.5 316.8L404.2 316.8L405.8 316.8L407.4 316.8L409.0 316.9L410.7 316.9L412.3 316.9L413.9 317.0L415.5 317.0L417.2 317.0L418.8 317.0L420.4 317.1L422.0 317.1L423.7 317.1L425.3 317.1L426.9 317.2L428.5 317.2L430.1 317.2L431.8 317.2L433.4 317.2L435.0 317.2L436.6 317.2L438.3 317.1L439.9 317.1L441.5 317.1L443.1 317.0L444.8 317.0L446.4 316.9L448.0 316.9L449.6 316.8L451.3 316.7L452.9 316.6L454.5 316.5L456.1 316.4L457.8 316.2L459.4 316.1L461.0 315.9L462.6 315.7L464.2 315.6L465.9 315.4L467.5 315.2L469.1 314.9L470.7 314.7L472.4 314.5L474.0 314.2L475.6 313.9L477.2 313.6L478.9 313.3L480.5 313.0L482.1 312.6L483.7 312.3L485.4 311.9L487.0 311.5L488.6 311.1L490.2 310.7L491.9 310.2L493.5 309.8L495.1 309.3L496.7 308.8L498.4 308.3L500.0 307.8L501.6 307.2L503.2 306.7L504.8 306.1L506.5 305.5L508.1 304.8L509.7 304.2L511.3 303.5L513.0 302.9L514.6 302.2L516.2 301.4L517.8 300.7L519.5 300.0L521.1 299.2L522.7 298.4L524.3 297.6L526.0 296.7L527.6 295.9L529.2 295.0L530.8 294.1L532.5 293.2L534.1 292.2L535.7 291.3L537.3 290.3" stroke="#255E91"/>
<path d="M311.6 338.9L313.2 337.6L314.8 336.3L316.5 335.1L318.1 333.9L319.7 332.8L321.3 331.7L323.0 330.6L324.6 329.6L326.2 328.6L327.8 327.6L329.5 326.7L331.1 325.8L332.7 324.9L334.3 324.1L336.0 323.3L337.6 322.5L339.2 321.8L340.8 321.1L342.5 320.4L344.1 319.8L345.7 319.2L347.3 318.6L349.0 318.1L350.6 317.5L352.2 317.0L353.8 316.5L355.4 316.1L357.1 315.7L358.7 315.3L360.3 314.9L361.9 314.5L363.6 314.2L365.2 313.9L366.8 313.6L368.4 313.3L370.1 313.0L371.7 312.8L373.3 312.5L374.9 312.3L376.6 312.1L378.2 311.9L379.8 311.8L381.4 311.6L383.1 311.5L384.7 311.4L386.3 311.2L387.9 311.1L389.5 311.0L391.2 310.9L392.8 310.9L394.4 310.8L396.0 310.7L397.7 310.7L399.3 310.6L400.9 310.6L402.5 310.5L404.2 310.5L405.8 310.5L407.4 310.4L409.0 310.4L410.7 310.4L412.3 310.4L413.9 310.3L415.5 310.3L417.2 310.3L418.8 310.3L420.4 310.2L422.0 310.2L423.7 310.2L425.3 310.2L426.9 310.1L428.5 310.1L430.1 310.0L431.8 310.0L433.4 309.9L435.0 309.9L436.6 309.8L438.3 309.7L439.9 309.7L441.5 309.6L443.1 309.5L444.8 309.4L446.4 309.3L448.0 309.1L449.6 309.0L451.3 308.8L452.9 308.7L454.5 308.5L456.1 308.3L457.8 308.1L459.4 307.9L461.0 307.7L462.6 307.4L464.2 307.2L465.9 306.9L467.5 306.6L469.1 306.3L470.7 306.0L472.4 305.7L474.0 305.3L475.6 304.9L477.2 304.5L478.9 304.1L480.5 303.7L482.1 303.3L483.7 302.8L485.4 302.3L487.0 301.8L488.6 301.3L490.2 300.8L491.9 300.2L493.5 299.7L495.1 299.1L496.7 298.4L498.4 297.8L500.0 297.2L501.6 296.5L503.2 295.8L504.8 295.1L506.5 294.3L508.1 293.6L509.7 292.8L511.3 292.0L513.0 291.2L514.6 290.3L516.2 289.4L517.8 288.5L519.5 287.6L521.1 286.7L522.7 285.7L524.3 284.8L526.0 283.8L527.6 282.7L529.2 281.7L530.8 280.6L532.5 279.5L534.1 278.4L535.7 277.2L537.3 276.1" stroke="#9E480E"/>
<path d="M311.6 338.9L313.2 337.5L314.8 336.0L316.5 334.6L318.1 333.3L319.7 331.9L321.3 330.7L323.0 329.4L324.6 328.2L326.2 327.1L327.8 325.9L329.5 324.9L331.1 323.8L332.7 322.8L334.3 321.8L336.0 320.9L337.6 320.0L339.2 319.1L340.8 318.2L342.5 317.4L344.1 316.6L345.7 315.9L347.3 315.1L349.0 314.4L350.6 313.8L352.2 313.1L353.8 312.5L355.4 311.9L357.1 311.4L358.7 310.8L360.3 310.3L361.9 309.8L363.6 309.3L365.2 308.9L366.8 308.5L368.4 308.1L370.1 307.7L371.7 307.3L373.3 307.0L374.9 306.6L376.6 306.3L378.2 306.0L379.8 305.8L381.4 305.5L383.1 305.2L384.7 305.0L386.3 304.8L387.9 304.6L389.5 304.4L391.2 304.2L392.8 304.0L394.4 303.9L396.0 303.7L397.7 303.6L399.3 303.4L400.9 303.3L402.5 303.2L404.2 303.1L405.8 303.0L407.4 302.9L409.0 302.8L410.7 302.7L412.3 302.6L413.9 302.5L415.5 302.4L417.2 302.3L418.8 302.2L420.4 302.1L422.0 302.1L423.7 302.0L425.3 301.9L426.9 301.8L428.5 301.7L430.1 301.6L431.8 301.5L433.4 301.3L435.0 301.2L436.6 301.1L438.3 301.0L439.9 300.8L441.5 300.6L443.1 300.5L444.8 300.3L446.4 300.1L448.0 299.9L449.6 299.7L451.3 299.5L452.9 299.2L454.5 299.0L456.1 298.7L457.8 298.4L459.4 298.1L461.0 297.8L462.6 297.5L464.2 297.1L465.9 296.8L467.5 296.4L469.1 296.0L470.7 295.6L472.4 295.1L474.0 294.7L475.6 294.2L477.2 293.7L478.9 293.2L480.5 292.7L482.1 292.1L483.7 291.5L485.4 290.9L487.0 290.3L488.6 289.6L490.2 289.0L491.9 288.3L493.5 287.6L495.1 286.8L496.7 286.1L498.4 285.3L500.0 284.5L501.6 283.7L503.2 282.8L504.8 282.0L506.5 281.1L508.1 280.1L509.7 279.2L511.3 278.2L513.0 277.2L514.6 276.2L516.2 275.2L517.8 274.1L519.5 273.0L521.1 271.9L522.7 270.8L524.3 269.6L526.0 268.4L527.6 267.2L529.2 265.9L530.8 264.7L532.5 263.4L534.1 262.0L535.7 260.7L537.3 259.3" stroke="#636363"/>
<path d="M311.6 338.9L313.2 337.3L314.8 335.7L316.5 334.1L318.1 332.5L319.7 331.0L321.3 329.6L323.0 328.2L324.6 326.8L326.2 325.4L327.8 324.1L329.5 322.9L331.1 321.6L332.7 320.5L334.3 319.3L336.0 318.2L337.6 317.1L339.2 316.0L340.8 315.0L342.5 314.0L344.1 313.1L345.7 312.1L347.3 311.2L349.0 310.4L350.6 309.5L352.2 308.7L353.8 308.0L355.4 307.2L357.1 306.5L358.7 305.8L360.3 305.1L361.9 304.5L363.6 303.8L365.2 303.2L366.8 302.7L368.4 302.1L370.1 301.6L371.7 301.1L373.3 300.6L374.9 300.1L376.6 299.7L378.2 299.2L379.8 298.8L381.4 298.4L383.1 298.1L384.7 297.7L386.3 297.4L387.9 297.0L389.5 296.7L391.2 296.4L392.8 296.1L394.4 295.9L396.0 295.6L397.7 295.4L399.3 295.1L400.9 294.9L402.5 294.7L404.2 294.5L405.8 294.3L407.4 294.1L409.0 293.9L410.7 293.7L412.3 293.5L413.9 293.4L415.5 293.2L417.2 293.0L418.8 292.9L420.4 292.7L422.0 292.5L423.7 292.3L425.3 292.2L426.9 292.0L428.5 291.8L430.1 291.6L431.8 291.4L433.4 291.3L435.0 291.1L436.6 290.8L438.3 290.6L439.9 290.4L441.5 290.2L443.1 289.9L444.8 289.7L446.4 289.4L448.0 289.1L449.6 288.8L451.3 288.5L452.9 288.1L454.5 287.8L456.1 287.4L457.8 287.1L459.4 286.7L461.0 286.2L462.6 285.8L464.2 285.3L465.9 284.9L467.5 284.4L469.1 283.9L470.7 283.3L472.4 282.8L474.0 282.2L475.6 281.6L477.2 281.0L478.9 280.3L480.5 279.7L482.1 279.0L483.7 278.2L485.4 277.5L487.0 276.7L488.6 275.9L490.2 275.1L491.9 274.3L493.5 273.4L495.1 272.5L496.7 271.6L498.4 270.6L500.0 269.7L501.6 268.7L503.2 267.6L504.8 266.6L506.5 265.5L508.1 264.4L509.7 263.3L511.3 262.1L513.0 260.9L514.6 259.7L516.2 258.5L517.8 257.2L519.5 255.9L521.1 254.6L522.7 253.2L524.3 251.9L526.0 250.4L527.6 249.0L529.2 247.5L530.8 246.0L532.5 244.5L534.1 243.0L535.7 241.4L537.3 239.8" stroke="#997300"/>
<path d="M313.4 156.9L314.6 153.5L315.8 150.3L317.0 147.1L318.2 144.0L319.4 141.1L320.6 138.3L321.8 135.5L323.0 132.9L324.2 130.4L325.4 127.9L326.6 125.6L327.8 123.4L329.0 121.2L330.2 119.2L331.4 117.2L332.6 115.4L333.8 113.6L335.1 111.9L336.3 110.3L337.5 108.8L338.7 107.3L339.9 105.9L341.1 104.7L342.3 103.5L343.5 102.3L344.7 101.3L345.9 100.3L347.1 99.4L348.3 98.5L349.5 97.7L350.7 97.0L351.9 96.3L353.1 95.8L354.3 95.2L355.5 94.7L356.7 94.3L357.9 94.0L359.1 93.7L360.3 93.4L361.5 93.2L362.7 93.0L364.0 92.9L365.2 92.9L366.4 92.8L367.6 92.9L368.8 92.9L370.0 93.0L371.2 93.1L372.4 93.3L373.6 93.5L374.8 93.7L376.0 94.0L377.2 94.2L378.4 94.5L379.6 94.8L380.8 95.2L382.0 95.5L383.2 95.9L384.4 96.3L385.6 96.7L386.8 97.1L388.0 97.5L389.2 98.0L390.4 98.4L391.6 98.8L392.9 99.3L394.1 99.7L395.3 100.2L396.5 100.6L397.7 101.0L398.9 101.4L400.1 101.8L401.3 102.2L402.5 102.6L403.7 103.0L404.9 103.3L406.1 103.7L407.3 104.0L408.5 104.3L409.7 104.5L410.9 104.8L412.1 105.0L413.3 105.1L414.5 105.3L415.7 105.4L416.9 105.5L418.1 105.5L419.3 105.5L420.5 105.5L421.8 105.4L423.0 105.3L424.2 105.1L425.4 104.9L426.6 104.7L427.8 104.4L429.0 104.0L430.2 103.6L431.4 103.2L432.6 102.7L433.8 102.1L435.0 101.5L436.2 100.8L437.4 100.1L438.6 99.3L439.8 98.5L441.0 97.6L442.2 96.6L443.4 95.6L444.6 94.5L445.8 93.3L447.0 92.1L448.2 90.8L449.4 89.4L450.7 88.0L451.9 86.5L453.1 84.9L454.3 83.2L455.5 81.5L456.7 79.6L457.9 77.7L459.1 75.7L460.3 73.7L461.5 71.5L462.7 69.2L463.9 66.9L465.1 64.5L466.3 62.0L467.5 59.3L468.7 56.6L469.9 53.8L471.1 50.9L472.3 47.9L473.5 44.8L474.7 41.6L475.9 38.3L477.1 34.9L478.3 31.3L479.6 27.7L480.8 23.9" stroke="#5B9BD5"/>
<path d="M313.4 157.2L314.6 153.9L315.9 150.7L317.1 147.6L318.4 144.6L319.6 141.7L320.9 139.0L322.2 136.3L323.4 133.7L324.7 131.2L325.9 128.9L327.2 126.6L328.4 124.4L329.7 122.3L330.9 120.3L332.2 118.4L333.4 116.6L334.7 114.9L335.9 113.3L337.2 111.7L338.4 110.2L339.7 108.9L340.9 107.6L342.2 106.4L343.5 105.2L344.7 104.2L346.0 103.2L347.2 102.3L348.5 101.4L349.7 100.7L351.0 100.0L352.2 99.3L353.5 98.8L354.7 98.3L356.0 97.9L357.2 97.5L358.5 97.2L359.7 96.9L361.0 96.8L362.2 96.6L363.5 96.5L364.8 96.5L366.0 96.5L367.3 96.6L368.5 96.6L369.8 96.8L371.0 97.0L372.3 97.2L373.5 97.4L374.8 97.7L376.0 98.0L377.3 98.3L378.5 98.6L379.8 99.0L381.0 99.4L382.3 99.8L383.5 100.3L384.8 100.7L386.1 101.2L387.3 101.6L388.6 102.1L389.8 102.6L391.1 103.1L392.3 103.6L393.6 104.1L394.8 104.6L396.1 105.1L397.3 105.6L398.6 106.0L399.8 106.5L401.1 107.0L402.3 107.4L403.6 107.9L404.9 108.3L406.1 108.7L407.4 109.1L408.6 109.5L409.9 109.9L411.1 110.2L412.4 110.5L413.6 110.8L414.9 111.0L416.1 111.3L417.4 111.5L418.6 111.6L419.9 111.8L421.1 111.9L422.4 111.9L423.6 111.9L424.9 111.9L426.2 111.9L427.4 111.8L428.7 111.6L429.9 111.5L431.2 111.2L432.4 111.0L433.7 110.6L434.9 110.3L436.2 109.9L437.4 109.4L438.7 108.9L439.9 108.3L441.2 107.7L442.4 107.0L443.7 106.3L444.9 105.5L446.2 104.7L447.5 103.7L448.7 102.8L450.0 101.7L451.2 100.6L452.5 99.5L453.7 98.3L455.0 97.0L456.2 95.6L457.5 94.2L458.7 92.7L460.0 91.1L461.2 89.4L462.5 87.7L463.7 85.9L465.0 84.0L466.2 82.0L467.5 79.9L468.8 77.8L470.0 75.5L471.3 73.2L472.5 70.8L473.8 68.3L475.0 65.7L476.3 63.0L477.5 60.2L478.8 57.3L480.0 54.3L481.3 51.2L482.5 48.0L483.8 44.6L485.0 41.2L486.3 37.7L487.6 34.0" stroke="#ED7D31"/>
<path d="M313.4 157.5L314.7 154.3L316.0 151.1L317.3 148.1L318.6 145.1L319.9 142.3L321.2 139.6L322.5 136.9L323.8 134.4L325.1 132.0L326.4 129.7L327.7 127.4L329.0 125.3L330.3 123.3L331.6 121.3L332.9 119.5L334.2 117.7L335.5 116.0L336.8 114.5L338.1 113.0L339.4 111.6L340.7 110.2L342.0 109.0L343.3 107.8L344.6 106.8L345.9 105.8L347.2 104.9L348.5 104.0L349.8 103.3L351.1 102.6L352.4 102.0L353.7 101.4L355.0 100.9L356.3 100.5L357.6 100.2L358.9 99.9L360.2 99.7L361.6 99.6L362.9 99.5L364.2 99.5L365.5 99.5L366.8 99.5L368.1 99.7L369.4 99.8L370.7 100.0L372.0 100.3L373.3 100.5L374.6 100.9L375.9 101.2L377.2 101.6L378.5 102.0L379.8 102.4L381.1 102.8L382.4 103.3L383.7 103.8L385.0 104.3L386.3 104.8L387.6 105.3L388.9 105.8L390.2 106.4L391.5 106.9L392.8 107.5L394.1 108.0L395.4 108.6L396.7 109.1L398.0 109.7L399.3 110.2L400.6 110.8L401.9 111.3L403.2 111.8L404.5 112.3L405.8 112.8L407.1 113.3L408.4 113.7L409.7 114.2L411.0 114.6L412.3 115.0L413.6 115.4L414.9 115.7L416.2 116.1L417.5 116.4L418.8 116.6L420.1 116.9L421.4 117.1L422.7 117.3L424.0 117.4L425.3 117.5L426.6 117.6L427.9 117.7L429.3 117.7L430.6 117.6L431.9 117.6L433.2 117.4L434.5 117.3L435.8 117.1L437.1 116.8L438.4 116.5L439.7 116.2L441.0 115.8L442.3 115.4L443.6 114.9L444.9 114.4L446.2 113.8L447.5 113.2L448.8 112.5L450.1 111.7L451.4 110.9L452.7 110.1L454.0 109.2L455.3 108.2L456.6 107.2L457.9 106.1L459.2 104.9L460.5 103.7L461.8 102.4L463.1 101.0L464.4 99.6L465.7 98.1L467.0 96.5L468.3 94.9L469.6 93.1L470.9 91.3L472.2 89.4L473.5 87.5L474.8 85.4L476.1 83.2L477.4 81.0L478.7 78.7L480.0 76.3L481.3 73.7L482.6 71.1L483.9 68.4L485.2 65.6L486.5 62.7L487.8 59.7L489.1 56.6L490.4 53.3L491.7 50.0L493.0 46.6L494.3 43.0" stroke="#A5A5A5"/>
<path d="M313.4 157.8L314.7 154.6L316.1 151.5L317.4 148.5L318.8 145.6L320.1 142.8L321.5 140.1L322.8 137.5L324.2 135.0L325.5 132.7L326.9 130.4L328.2 128.2L329.6 126.1L330.9 124.1L332.3 122.2L333.6 120.4L335.0 118.7L336.3 117.1L337.7 115.5L339.0 114.1L340.4 112.7L341.7 111.5L343.1 110.3L344.4 109.2L345.8 108.2L347.1 107.2L348.5 106.4L349.9 105.6L351.2 104.9L352.6 104.3L353.9 103.7L355.3 103.3L356.6 102.9L358.0 102.6L359.3 102.3L360.7 102.1L362.0 102.0L363.4 101.9L364.7 101.9L366.1 102.0L367.4 102.1L368.8 102.3L370.1 102.5L371.5 102.7L372.8 103.0L374.2 103.4L375.5 103.7L376.9 104.1L378.2 104.6L379.6 105.0L380.9 105.5L382.3 106.0L383.6 106.6L385.0 107.1L386.3 107.7L387.7 108.2L389.0 108.8L390.4 109.4L391.7 110.0L393.1 110.6L394.4 111.2L395.8 111.8L397.1 112.4L398.5 113.0L399.8 113.6L401.2 114.2L402.5 114.8L403.9 115.4L405.2 116.0L406.6 116.5L407.9 117.1L409.3 117.6L410.6 118.1L412.0 118.6L413.3 119.0L414.7 119.5L416.0 119.9L417.4 120.3L418.7 120.7L420.1 121.0L421.4 121.3L422.8 121.6L424.1 121.9L425.5 122.1L426.8 122.3L428.2 122.5L429.5 122.6L430.9 122.7L432.3 122.8L433.6 122.8L435.0 122.8L436.3 122.7L437.7 122.6L439.0 122.5L440.4 122.3L441.7 122.1L443.1 121.8L444.4 121.5L445.8 121.2L447.1 120.8L448.5 120.3L449.8 119.8L451.2 119.3L452.5 118.7L453.9 118.0L455.2 117.3L456.6 116.6L457.9 115.8L459.3 114.9L460.6 114.0L462.0 113.0L463.3 112.0L464.7 110.9L466.0 109.7L467.4 108.5L468.7 107.2L470.1 105.8L471.4 104.4L472.8 102.9L474.1 101.3L475.5 99.6L476.8 97.9L478.2 96.1L479.5 94.2L480.9 92.2L482.2 90.1L483.6 88.0L484.9 85.7L486.3 83.4L487.6 81.0L489.0 78.4L490.3 75.8L491.7 73.1L493.0 70.3L494.4 67.3L495.7 64.3L497.1 61.1L498.4 57.9L499.8 54.5L501.1 51.0" stroke="#FFC000"/>
<path d="M313.4 158.0L314.8 154.8L316.2 151.8L317.6 148.8L319.0 146.0L320.4 143.2L321.8 140.6L323.2 138.1L324.6 135.6L326.0 133.3L327.4 131.0L328.8 128.9L330.2 126.8L331.6 124.9L333.0 123.0L334.4 121.3L335.8 119.6L337.2 118.0L338.6 116.5L340.0 115.1L341.4 113.8L342.8 112.6L344.2 111.4L345.6 110.4L347.0 109.4L348.4 108.5L349.8 107.7L351.2 107.0L352.6 106.4L354.0 105.8L355.4 105.3L356.8 104.9L358.2 104.6L359.6 104.3L361.0 104.2L362.4 104.1L363.8 104.0L365.2 104.1L366.6 104.1L368.0 104.3L369.4 104.5L370.8 104.7L372.2 105.0L373.6 105.4L375.0 105.7L376.4 106.2L377.8 106.6L379.2 107.1L380.6 107.6L382.0 108.2L383.4 108.7L384.8 109.3L386.2 109.9L387.6 110.5L389.0 111.1L390.4 111.8L391.8 112.4L393.2 113.1L394.6 113.7L396.0 114.4L397.4 115.1L398.8 115.7L400.2 116.4L401.6 117.0L403.0 117.7L404.4 118.3L405.8 119.0L407.2 119.6L408.6 120.2L410.0 120.8L411.4 121.3L412.8 121.9L414.2 122.4L415.6 122.9L417.0 123.4L418.4 123.9L419.8 124.3L421.2 124.7L422.6 125.1L424.0 125.5L425.4 125.8L426.8 126.1L428.2 126.4L429.6 126.6L431.0 126.9L432.4 127.0L433.8 127.2L435.2 127.3L436.6 127.4L438.0 127.4L439.4 127.4L440.8 127.4L442.2 127.3L443.6 127.2L445.0 127.0L446.4 126.8L447.8 126.6L449.2 126.3L450.6 125.9L452.0 125.6L453.4 125.2L454.8 124.7L456.2 124.2L457.5 123.6L458.9 123.0L460.3 122.3L461.7 121.6L463.1 120.8L464.5 120.0L465.9 119.2L467.3 118.2L468.7 117.2L470.1 116.2L471.5 115.1L472.9 113.9L474.3 112.7L475.7 111.4L477.1 110.0L478.5 108.6L479.9 107.1L481.3 105.5L482.7 103.8L484.1 102.1L485.5 100.2L486.9 98.3L488.3 96.3L489.7 94.2L491.1 92.1L492.5 89.8L493.9 87.4L495.3 85.0L496.7 82.4L498.1 79.8L499.5 77.0L500.9 74.2L502.3 71.2L503.7 68.1L505.1 65.0L506.5 61.7L507.9 58.3" stroke="#4472C4"/>
<path d="M313.4 158.2L314.8 155.1L316.3 152.1L317.7 149.2L319.2 146.3L320.6 143.6L322.1 141.0L323.5 138.5L325.0 136.1L326.4 133.8L327.9 131.6L329.3 129.5L330.8 127.5L332.2 125.6L333.7 123.8L335.1 122.0L336.6 120.4L338.0 118.8L339.5 117.4L340.9 116.0L342.4 114.8L343.8 113.6L345.2 112.5L346.7 111.5L348.1 110.5L349.6 109.7L351.0 109.0L352.5 108.3L353.9 107.7L355.4 107.2L356.8 106.8L358.3 106.4L359.7 106.2L361.2 106.0L362.6 105.9L364.1 105.8L365.5 105.9L367.0 105.9L368.4 106.1L369.9 106.3L371.3 106.6L372.8 106.9L374.2 107.3L375.7 107.7L377.1 108.2L378.6 108.7L380.0 109.2L381.5 109.8L382.9 110.4L384.4 111.0L385.8 111.6L387.3 112.2L388.7 112.9L390.2 113.6L391.6 114.3L393.1 115.0L394.5 115.7L395.9 116.4L397.4 117.1L398.8 117.8L400.3 118.5L401.7 119.2L403.2 120.0L404.6 120.7L406.1 121.3L407.5 122.0L409.0 122.7L410.4 123.3L411.9 124.0L413.3 124.6L414.8 125.2L416.2 125.8L417.7 126.3L419.1 126.8L420.6 127.3L422.0 127.8L423.5 128.3L424.9 128.7L426.4 129.1L427.8 129.5L429.3 129.9L430.7 130.2L432.2 130.5L433.6 130.7L435.1 130.9L436.5 131.1L438.0 131.3L439.4 131.4L440.9 131.5L442.3 131.6L443.8 131.6L445.2 131.5L446.7 131.5L448.1 131.4L449.5 131.2L451.0 131.1L452.4 130.8L453.9 130.6L455.3 130.3L456.8 129.9L458.2 129.5L459.7 129.1L461.1 128.6L462.6 128.1L464.0 127.5L465.5 126.8L466.9 126.2L468.4 125.4L469.8 124.7L471.3 123.8L472.7 123.0L474.2 122.0L475.6 121.0L477.1 120.0L478.5 118.8L480.0 117.7L481.4 116.4L482.9 115.1L484.3 113.7L485.8 112.3L487.2 110.7L488.7 109.1L490.1 107.4L491.6 105.7L493.0 103.8L494.5 101.9L495.9 99.9L497.4 97.8L498.8 95.6L500.2 93.3L501.7 90.9L503.1 88.4L504.6 85.8L506.0 83.1L507.5 80.4L508.9 77.5L510.4 74.5L511.8 71.3L513.3 68.1L514.7 64.8" stroke="#70AD47"/>
<path d="M313.4 158.4L314.9 155.3L316.4 152.3L317.9 149.5L319.4 146.7L320.9 144.0L322.4 141.4L323.9 139.0L325.4 136.6L326.9 134.3L328.4 132.1L329.9 130.1L331.3 128.1L332.8 126.2L334.3 124.4L335.8 122.7L337.3 121.1L338.8 119.6L340.3 118.2L341.8 116.9L343.3 115.6L344.8 114.5L346.3 113.4L347.8 112.4L349.3 111.6L350.8 110.8L352.3 110.1L353.8 109.4L355.3 108.9L356.8 108.4L358.3 108.1L359.8 107.8L361.3 107.6L362.8 107.4L364.3 107.4L365.8 107.4L367.3 107.5L368.8 107.7L370.3 107.9L371.8 108.2L373.3 108.5L374.8 108.9L376.3 109.4L377.8 109.8L379.3 110.4L380.8 110.9L382.3 111.5L383.8 112.2L385.3 112.8L386.8 113.5L388.3 114.2L389.8 114.9L391.2 115.6L392.7 116.4L394.2 117.1L395.7 117.9L397.2 118.6L398.7 119.4L400.2 120.1L401.7 120.9L403.2 121.7L404.7 122.4L406.2 123.2L407.7 123.9L409.2 124.6L410.7 125.4L412.2 126.1L413.7 126.7L415.2 127.4L416.7 128.0L418.2 128.7L419.7 129.3L421.2 129.8L422.7 130.4L424.2 130.9L425.7 131.4L427.2 131.9L428.7 132.3L430.2 132.7L431.7 133.1L433.2 133.5L434.7 133.8L436.2 134.1L437.7 134.4L439.2 134.6L440.7 134.8L442.2 135.0L443.7 135.2L445.2 135.3L446.7 135.3L448.2 135.3L449.7 135.3L451.1 135.3L452.6 135.2L454.1 135.1L455.6 134.9L457.1 134.7L458.6 134.5L460.1 134.2L461.6 133.8L463.1 133.5L464.6 133.1L466.1 132.6L467.6 132.1L469.1 131.5L470.6 130.9L472.1 130.3L473.6 129.6L475.1 128.9L476.6 128.1L478.1 127.2L479.6 126.3L481.1 125.4L482.6 124.4L484.1 123.3L485.6 122.2L487.1 121.0L488.6 119.7L490.1 118.4L491.6 117.0L493.1 115.5L494.6 113.9L496.1 112.3L497.6 110.6L499.1 108.8L500.6 106.9L502.1 105.0L503.6 102.9L505.1 100.8L506.6 98.6L508.1 96.2L509.6 93.8L511.0 91.3L512.5 88.7L514.0 85.9L515.5 83.1L517.0 80.2L518.5 77.1L520.0 74.0L521.5 70.7" stroke="#255E91"/>
<path d="M313.4 158.6L314.9 155.5L316.5 152.6L318.0 149.7L319.6 147.0L321.1 144.3L322.7 141.8L324.2 139.4L325.8 137.0L327.3 134.8L328.8 132.6L330.4 130.6L331.9 128.6L333.5 126.8L335.0 125.0L336.6 123.3L338.1 121.8L339.7 120.3L341.2 118.9L342.8 117.6L344.3 116.4L345.9 115.3L347.4 114.3L348.9 113.3L350.5 112.5L352.0 111.7L353.6 111.0L355.1 110.5L356.7 110.0L358.2 109.6L359.8 109.2L361.3 109.0L362.9 108.8L364.4 108.7L366.0 108.8L367.5 108.8L369.0 109.0L370.6 109.2L372.1 109.5L373.7 109.8L375.2 110.3L376.8 110.7L378.3 111.2L379.9 111.8L381.4 112.4L383.0 113.0L384.5 113.7L386.1 114.3L387.6 115.1L389.2 115.8L390.7 116.5L392.2 117.3L393.8 118.1L395.3 118.9L396.9 119.7L398.4 120.5L400.0 121.3L401.5 122.1L403.1 122.9L404.6 123.7L406.2 124.5L407.7 125.3L409.3 126.1L410.8 126.9L412.3 127.6L413.9 128.4L415.4 129.1L417.0 129.8L418.5 130.5L420.1 131.2L421.6 131.8L423.2 132.4L424.7 133.0L426.3 133.6L427.8 134.1L429.4 134.7L430.9 135.1L432.5 135.6L434.0 136.0L435.5 136.4L437.1 136.8L438.6 137.2L440.2 137.5L441.7 137.7L443.3 138.0L444.8 138.2L446.4 138.4L447.9 138.5L449.5 138.7L451.0 138.7L452.6 138.8L454.1 138.8L455.6 138.7L457.2 138.7L458.7 138.6L460.3 138.4L461.8 138.2L463.4 138.0L464.9 137.7L466.5 137.4L468.0 137.1L469.6 136.7L471.1 136.2L472.7 135.7L474.2 135.2L475.8 134.6L477.3 134.0L478.8 133.4L480.4 132.7L481.9 131.9L483.5 131.1L485.0 130.2L486.6 129.3L488.1 128.4L489.7 127.3L491.2 126.2L492.8 125.1L494.3 123.9L495.9 122.6L497.4 121.2L498.9 119.8L500.5 118.3L502.0 116.7L503.6 115.1L505.1 113.3L506.7 111.5L508.2 109.6L509.8 107.6L511.3 105.5L512.9 103.4L514.4 101.1L516.0 98.7L517.5 96.3L519.0 93.7L520.6 91.0L522.1 88.2L523.7 85.4L525.2 82.4L526.8 79.3L528.3 76.0" stroke="#9E480E"/>
<path d="M313.4 158.7L315.0 155.7L316.6 152.8L318.2 150.0L319.8 147.3L321.4 144.6L323.0 142.1L324.5 139.7L326.1 137.4L327.7 135.2L329.3 133.1L330.9 131.0L332.5 129.1L334.1 127.3L335.7 125.5L337.3 123.9L338.9 122.4L340.5 120.9L342.1 119.5L343.7 118.3L345.3 117.1L346.9 116.0L348.5 115.0L350.1 114.1L351.7 113.3L353.3 112.6L354.9 112.0L356.5 111.4L358.0 110.9L359.6 110.6L361.2 110.3L362.8 110.1L364.4 110.0L366.0 109.9L367.6 110.0L369.2 110.1L370.8 110.3L372.4 110.6L374.0 111.0L375.6 111.4L377.2 111.8L378.8 112.3L380.4 112.9L382.0 113.5L383.6 114.2L385.2 114.9L386.8 115.6L388.4 116.3L390.0 117.1L391.5 117.9L393.1 118.7L394.7 119.5L396.3 120.3L397.9 121.2L399.5 122.0L401.1 122.9L402.7 123.7L404.3 124.6L405.9 125.4L407.5 126.3L409.1 127.1L410.7 127.9L412.3 128.8L413.9 129.6L415.5 130.4L417.1 131.1L418.7 131.9L420.3 132.6L421.9 133.3L423.5 134.0L425.0 134.7L426.6 135.3L428.2 135.9L429.8 136.5L431.4 137.1L433.0 137.6L434.6 138.1L436.2 138.6L437.8 139.0L439.4 139.4L441.0 139.8L442.6 140.2L444.2 140.5L445.8 140.8L447.4 141.1L449.0 141.3L450.6 141.5L452.2 141.6L453.8 141.7L455.4 141.8L457.0 141.9L458.6 141.9L460.1 141.9L461.7 141.8L463.3 141.7L464.9 141.6L466.5 141.4L468.1 141.2L469.7 140.9L471.3 140.7L472.9 140.3L474.5 139.9L476.1 139.5L477.7 139.1L479.3 138.6L480.9 138.0L482.5 137.4L484.1 136.8L485.7 136.1L487.3 135.4L488.9 134.6L490.5 133.8L492.1 132.9L493.6 132.0L495.2 131.0L496.8 130.0L498.4 128.9L500.0 127.7L501.6 126.4L503.2 125.1L504.8 123.7L506.4 122.3L508.0 120.8L509.6 119.2L511.2 117.5L512.8 115.7L514.4 113.8L516.0 111.9L517.6 109.9L519.2 107.7L520.8 105.5L522.4 103.2L524.0 100.8L525.6 98.3L527.1 95.6L528.7 92.9L530.3 90.1L531.9 87.1L533.5 84.1L535.1 80.9" stroke="#636363"/>
<path d="M313.4 158.9L315.0 155.9L316.7 153.0L318.3 150.2L320.0 147.5L321.6 144.9L323.2 142.4L324.9 140.0L326.5 137.8L328.2 135.6L329.8 133.5L331.5 131.5L333.1 129.6L334.8 127.8L336.4 126.0L338.0 124.4L339.7 122.9L341.3 121.5L343.0 120.1L344.6 118.9L346.3 117.7L347.9 116.7L349.6 115.7L351.2 114.9L352.8 114.1L354.5 113.4L356.1 112.8L357.8 112.3L359.4 111.8L361.1 111.5L362.7 111.3L364.3 111.1L366.0 111.0L367.6 111.0L369.3 111.1L370.9 111.3L372.6 111.6L374.2 111.9L375.9 112.3L377.5 112.7L379.1 113.3L380.8 113.8L382.4 114.4L384.1 115.1L385.7 115.8L387.4 116.6L389.0 117.3L390.7 118.1L392.3 118.9L393.9 119.8L395.6 120.6L397.2 121.5L398.9 122.4L400.5 123.3L402.2 124.2L403.8 125.0L405.5 125.9L407.1 126.8L408.7 127.7L410.4 128.6L412.0 129.5L413.7 130.3L415.3 131.2L417.0 132.0L418.6 132.8L420.3 133.6L421.9 134.4L423.5 135.2L425.2 135.9L426.8 136.6L428.5 137.3L430.1 138.0L431.8 138.6L433.4 139.2L435.0 139.8L436.7 140.3L438.3 140.8L440.0 141.3L441.6 141.8L443.3 142.2L444.9 142.6L446.6 142.9L448.2 143.3L449.8 143.6L451.5 143.8L453.1 144.1L454.8 144.3L456.4 144.4L458.1 144.6L459.7 144.7L461.4 144.7L463.0 144.8L464.6 144.7L466.3 144.7L467.9 144.6L469.6 144.5L471.2 144.3L472.9 144.1L474.5 143.9L476.2 143.6L477.8 143.3L479.4 142.9L481.1 142.5L482.7 142.1L484.4 141.6L486.0 141.1L487.7 140.5L489.3 139.9L491.0 139.3L492.6 138.6L494.2 137.9L495.9 137.1L497.5 136.2L499.2 135.3L500.8 134.4L502.5 133.4L504.1 132.3L505.7 131.1L507.4 129.9L509.0 128.7L510.7 127.3L512.3 125.9L514.0 124.4L515.6 122.9L517.3 121.2L518.9 119.5L520.5 117.7L522.2 115.8L523.8 113.8L525.5 111.7L527.1 109.5L528.8 107.3L530.4 104.9L532.1 102.4L533.7 99.9L535.3 97.2L537.0 94.4L538.6 91.5" stroke="#997300"/>
<path d="M34.9 135.4L35.3 134.8L35.8 134.2L36.3 133.6L36.8 133.1L37.2 132.5L37.7 132.0L38.2 131.5L38.7 131.0L39.1 130.5L39.6 130.0L40.1 129.5L40.6 129.1L41.0 128.6L41.5 128.2L42.0 127.8L42.5 127.4L42.9 127.0L43.4 126.6L43.9 126.2L44.4 125.8L44.8 125.5L45.3 125.1L45.8 124.8L46.3 124.5L46.7 124.1L47.2 123.8L47.7 123.5L48.2 123.3L48.6 123.0L49.1 122.7L49.6 122.5L50.1 122.2L50.5 122.0L51.0 121.8L51.5 121.5L52.0 121.3L52.4 121.1L52.9 120.9L53.4 120.7L53.9 120.6L54.3 120.4L54.8 120.2L55.3 120.1L55.8 119.9L56.2 119.8L56.7 119.7L57.2 119.5L57.7 119.4L58.1 119.3L58.6 119.2L59.1 119.1L59.6 119.0L60.0 118.9L60.5 118.9L61.0 118.8L61.5 118.7L61.9 118.7L62.4 118.6L62.9 118.6L63.4 118.5L63.8 118.5L64.3 118.5L64.8 118.4L65.3 118.4L65.7 118.4L66.2 118.4L66.7 118.4L67.2 118.4L67.6 118.4L68.1 118.4L68.6 118.4L69.1 118.4L69.5 118.5L70.0 118.5L70.5 118.5L71.0 118.5L71.4 118.6L71.9 118.6L72.4 118.6L72.9 118.7L73.4 118.7L73.8 118.8L74.3 118.8L74.8 118.9L75.3 118.9L75.7 119.0L76.2 119.1L76.7 119.1L77.2 119.2L77.6 119.3L78.1 119.3L78.6 119.4L79.1 119.5L79.5 119.5L80.0 119.6L80.5 119.7L81.0 119.7L81.4 119.8L81.9 119.9L82.4 120.0L82.9 120.0L83.3 120.1L83.8 120.2L84.3 120.3L84.8 120.3L85.2 120.4L85.7 120.5L86.2 120.6L86.7 120.6L87.1 120.7L87.6 120.8L88.1 120.8L88.6 120.9L89.0 121.0L89.5 121.0L90.0 121.1L90.5 121.2L90.9 121.2L91.4 121.3L91.9 121.3L92.4 121.4L92.8 121.4L93.3 121.5L93.8 121.5L94.3 121.6L94.7 121.6L95.2 121.6L95.7 121.7L96.2 121.7L96.6 121.7L97.1 121.7L97.6 121.8L98.1 121.8L98.5 121.8L99.0 121.8L99.5 121.8L100.0 121.8L100.4 121.8L100.9 121.8L101.4 121.8L101.9 121.8L102.3 121.8L102.8 121.8L103.3 121.7L103.8 121.7L104.2 121.7L104.7 121.6L105.2 121.6L105.7 121.6L106.1 121.5L106.6 121.4L107.1 121.4L107.6 121.3L108.0 121.2L108.5 121.2L109.0 121.1L109.5 121.0L110.0 120.9L110.4 120.8L110.9 120.7L111.4 120.6L111.9 120.4L112.3 120.3L112.8 120.2L113.3 120.0L113.8 119.9L114.2 119.7L114.7 119.6L115.2 119.4L115.7 119.2L116.1 119.1L116.6 118.9L117.1 118.7L117.6 118.5L118.0 118.3L118.5 118.1L119.0 117.8L119.5 117.6L119.9 117.4L120.4 117.1L120.9 116.9L121.4 116.6L121.8 116.3L122.3 116.0L122.8 115.8L123.3 115.5L123.7 115.1L124.2 114.8L124.7 114.5L125.2 114.2L125.6 113.8L126.1 113.5L126.6 113.1L127.1 112.8L127.5 112.4L128.0 112.0L128.5 111.6L129.0 111.2L129.4 110.8L129.9 110.4L130.4 109.9L130.9 109.5L131.3 109.0L131.8 108.5L132.3 108.1L132.8 107.6L133.2 107.1L133.7 106.6L134.2 106.1L134.7 105.5L135.1 105.0L135.6 104.4L136.1 103.9L136.6 103.3L137.0 102.7L137.5 102.1L138.0 101.5L138.5 100.9L138.9 100.3" stroke="#5B9BD5"/>
<path d="M34.9 135.4L35.4 134.6L35.9 133.8L36.5 133.0L37.0 132.2L37.5 131.4L38.1 130.7L38.6 130.0L39.1 129.3L39.7 128.6L40.2 127.9L40.7 127.3L41.3 126.7L41.8 126.1L42.4 125.5L42.9 124.9L43.4 124.3L44.0 123.8L44.5 123.3L45.0 122.7L45.6 122.3L46.1 121.8L46.6 121.3L47.2 120.9L47.7 120.4L48.3 120.0L48.8 119.6L49.3 119.2L49.9 118.8L50.4 118.5L50.9 118.1L51.5 117.8L52.0 117.5L52.5 117.2L53.1 116.9L53.6 116.6L54.2 116.3L54.7 116.1L55.2 115.8L55.8 115.6L56.3 115.4L56.8 115.2L57.4 115.0L57.9 114.8L58.4 114.6L59.0 114.5L59.5 114.3L60.1 114.2L60.6 114.1L61.1 113.9L61.7 113.8L62.2 113.7L62.7 113.7L63.3 113.6L63.8 113.5L64.3 113.4L64.9 113.4L65.4 113.4L65.9 113.3L66.5 113.3L67.0 113.3L67.6 113.3L68.1 113.3L68.6 113.3L69.2 113.3L69.7 113.3L70.2 113.4L70.8 113.4L71.3 113.4L71.8 113.5L72.4 113.5L72.9 113.6L73.5 113.7L74.0 113.8L74.5 113.8L75.1 113.9L75.6 114.0L76.1 114.1L76.7 114.2L77.2 114.3L77.7 114.4L78.3 114.5L78.8 114.7L79.4 114.8L79.9 114.9L80.4 115.0L81.0 115.2L81.5 115.3L82.0 115.4L82.6 115.6L83.1 115.7L83.6 115.9L84.2 116.0L84.7 116.2L85.3 116.3L85.8 116.5L86.3 116.7L86.9 116.8L87.4 117.0L87.9 117.1L88.5 117.3L89.0 117.5L89.5 117.6L90.1 117.8L90.6 117.9L91.2 118.1L91.7 118.3L92.2 118.4L92.8 118.6L93.3 118.7L93.8 118.9L94.4 119.1L94.9 119.2L95.4 119.4L96.0 119.5L96.5 119.7L97.0 119.8L97.6 120.0L98.1 120.1L98.7 120.2L99.2 120.4L99.7 120.5L100.3 120.6L100.8 120.8L101.3 120.9L101.9 121.0L102.4 121.1L102.9 121.2L103.5 121.3L104.0 121.4L104.6 121.5L105.1 121.6L105.6 121.7L106.2 121.8L106.7 121.9L107.2 122.0L107.8 122.0L108.3 122.1L108.8 122.1L109.4 122.2L109.9 122.2L110.5 122.3L111.0 122.3L111.5 122.3L112.1 122.3L112.6 122.3L113.1 122.3L113.7 122.3L114.2 122.3L114.7 122.3L115.3 122.3L115.8 122.2L116.4 122.2L116.9 122.1L117.4 122.1L118.0 122.0L118.5 121.9L119.0 121.8L119.6 121.7L120.1 121.6L120.6 121.5L121.2 121.4L121.7 121.2L122.3 121.1L122.8 120.9L123.3 120.8L123.9 120.6L124.4 120.4L124.9 120.2L125.5 120.0L126.0 119.7L126.5 119.5L127.1 119.3L127.6 119.0L128.1 118.7L128.7 118.4L129.2 118.1L129.8 117.8L130.3 117.5L130.8 117.2L131.4 116.8L131.9 116.5L132.4 116.1L133.0 115.7L133.5 115.3L134.0 114.9L134.6 114.4L135.1 114.0L135.7 113.5L136.2 113.1L136.7 112.6L137.3 112.1L137.8 111.6L138.3 111.1L138.9 110.6L139.4 110.0L139.9 109.5L140.5 109.0L141.0 108.4L141.6 107.9L142.1 107.3L142.6 106.7L143.2 106.2L143.7 105.6L144.2 105.0L144.8 104.4L145.3 103.8L145.8 103.2L146.4 102.6L146.9 102.0L147.5 101.4L148.0 100.8L148.5 100.1L149.1 99.4L149.6 98.7L150.1 98.0L150.7 97.2L151.2 96.4L151.7 95.6L152.3 94.8" stroke="#ED7D31"/>
<path d="M34.9 135.4L35.4 134.3L36.0 133.2L36.6 132.1L37.2 131.1L37.8 130.1L38.4 129.1L39.0 128.2L39.6 127.2L40.2 126.3L40.8 125.4L41.4 124.6L42.0 123.8L42.6 123.0L43.2 122.2L43.8 121.5L44.4 120.7L45.0 120.0L45.6 119.3L46.2 118.7L46.8 118.1L47.4 117.4L48.0 116.9L48.6 116.3L49.2 115.7L49.7 115.2L50.3 114.7L50.9 114.2L51.5 113.8L52.1 113.3L52.7 112.9L53.3 112.5L53.9 112.1L54.5 111.8L55.1 111.4L55.7 111.1L56.3 110.8L56.9 110.5L57.5 110.2L58.1 110.0L58.7 109.7L59.3 109.5L59.9 109.3L60.5 109.1L61.1 108.9L61.7 108.8L62.3 108.6L62.9 108.5L63.5 108.4L64.1 108.3L64.6 108.2L65.2 108.1L65.8 108.1L66.4 108.0L67.0 108.0L67.6 108.0L68.2 108.0L68.8 108.0L69.4 108.0L70.0 108.1L70.6 108.1L71.2 108.1L71.8 108.2L72.4 108.3L73.0 108.4L73.6 108.5L74.2 108.6L74.8 108.7L75.4 108.8L76.0 108.9L76.6 109.1L77.2 109.2L77.8 109.4L78.4 109.5L79.0 109.7L79.5 109.9L80.1 110.1L80.7 110.2L81.3 110.4L81.9 110.6L82.5 110.8L83.1 111.1L83.7 111.3L84.3 111.5L84.9 111.7L85.5 112.0L86.1 112.2L86.7 112.4L87.3 112.7L87.9 112.9L88.5 113.1L89.1 113.4L89.7 113.6L90.3 113.9L90.9 114.2L91.5 114.4L92.1 114.7L92.7 114.9L93.3 115.2L93.8 115.4L94.4 115.7L95.0 115.9L95.6 116.2L96.2 116.4L96.8 116.7L97.4 116.9L98.0 117.2L98.6 117.4L99.2 117.7L99.8 117.9L100.4 118.2L101.0 118.4L101.6 118.6L102.2 118.8L102.8 119.1L103.4 119.3L104.0 119.5L104.6 119.7L105.2 119.9L105.8 120.1L106.4 120.3L107.0 120.5L107.6 120.7L108.2 120.8L108.7 121.0L109.3 121.2L109.9 121.3L110.5 121.5L111.1 121.7L111.7 121.8L112.3 121.9L112.9 122.1L113.5 122.2L114.1 122.3L114.7 122.4L115.3 122.5L115.9 122.6L116.5 122.7L117.1 122.8L117.7 122.8L118.3 122.9L118.9 123.0L119.5 123.0L120.1 123.0L120.7 123.1L121.3 123.1L121.9 123.1L122.5 123.1L123.1 123.1L123.6 123.1L124.2 123.1L124.8 123.0L125.4 123.0L126.0 122.9L126.6 122.8L127.2 122.8L127.8 122.7L128.4 122.6L129.0 122.5L129.6 122.4L130.2 122.2L130.8 122.1L131.4 121.9L132.0 121.8L132.6 121.6L133.2 121.4L133.8 121.2L134.4 121.0L135.0 120.8L135.6 120.5L136.2 120.3L136.8 120.0L137.4 119.7L138.0 119.5L138.5 119.2L139.1 118.8L139.7 118.5L140.3 118.2L140.9 117.8L141.5 117.4L142.1 117.0L142.7 116.6L143.3 116.2L143.9 115.8L144.5 115.4L145.1 114.9L145.7 114.4L146.3 113.9L146.9 113.4L147.5 112.9L148.1 112.4L148.7 111.8L149.3 111.3L149.9 110.7L150.5 110.1L151.1 109.5L151.7 108.8L152.3 108.2L152.8 107.5L153.4 106.8L154.0 106.1L154.6 105.4L155.2 104.7L155.8 103.9L156.4 103.1L157.0 102.3L157.6 101.5L158.2 100.7L158.8 99.9L159.4 99.0L160.0 98.1L160.6 97.2L161.2 96.3L161.8 95.3L162.4 94.4L163.0 93.4L163.6 92.4L164.2 91.4L164.8 90.3L165.4 89.3" stroke="#A5A5A5"/>
<path d="M34.9 135.4L35.5 134.0L36.2 132.6L36.8 131.2L37.5 129.9L38.1 128.6L38.8 127.4L39.4 126.2L40.1 125.0L40.8 123.8L41.4 122.7L42.1 121.6L42.7 120.6L43.4 119.6L44.0 118.6L44.7 117.7L45.3 116.7L46.0 115.9L46.7 115.0L47.3 114.2L48.0 113.4L48.6 112.6L49.3 111.9L49.9 111.2L50.6 110.5L51.2 109.8L51.9 109.2L52.6 108.6L53.2 108.0L53.9 107.5L54.5 107.0L55.2 106.5L55.8 106.0L56.5 105.6L57.1 105.2L57.8 104.8L58.5 104.4L59.1 104.1L59.8 103.7L60.4 103.4L61.1 103.2L61.7 102.9L62.4 102.7L63.1 102.5L63.7 102.3L64.4 102.1L65.0 102.0L65.7 101.8L66.3 101.7L67.0 101.6L67.6 101.5L68.3 101.5L69.0 101.5L69.6 101.4L70.3 101.4L70.9 101.4L71.6 101.5L72.2 101.5L72.9 101.6L73.5 101.7L74.2 101.8L74.9 101.9L75.5 102.0L76.2 102.1L76.8 102.3L77.5 102.4L78.1 102.6L78.8 102.8L79.4 103.0L80.1 103.2L80.8 103.4L81.4 103.7L82.1 103.9L82.7 104.2L83.4 104.4L84.0 104.7L84.7 105.0L85.4 105.3L86.0 105.6L86.7 105.9L87.3 106.2L88.0 106.5L88.6 106.8L89.3 107.2L89.9 107.5L90.6 107.9L91.3 108.2L91.9 108.6L92.6 108.9L93.2 109.3L93.9 109.7L94.5 110.0L95.2 110.4L95.8 110.8L96.5 111.2L97.2 111.5L97.8 111.9L98.5 112.3L99.1 112.7L99.8 113.1L100.4 113.5L101.1 113.8L101.7 114.2L102.4 114.6L103.1 115.0L103.7 115.4L104.4 115.8L105.0 116.1L105.7 116.5L106.3 116.9L107.0 117.2L107.7 117.6L108.3 118.0L109.0 118.3L109.6 118.7L110.3 119.0L110.9 119.3L111.6 119.7L112.2 120.0L112.9 120.3L113.6 120.6L114.2 120.9L114.9 121.2L115.5 121.5L116.2 121.8L116.8 122.1L117.5 122.3L118.1 122.6L118.8 122.8L119.5 123.1L120.1 123.3L120.8 123.5L121.4 123.7L122.1 123.9L122.7 124.1L123.4 124.3L124.0 124.5L124.7 124.6L125.4 124.8L126.0 124.9L126.7 125.0L127.3 125.2L128.0 125.3L128.6 125.4L129.3 125.4L130.0 125.5L130.6 125.6L131.3 125.6L131.9 125.6L132.6 125.7L133.2 125.7L133.9 125.7L134.5 125.6L135.2 125.6L135.9 125.6L136.5 125.5L137.2 125.4L137.8 125.3L138.5 125.2L139.1 125.1L139.8 125.0L140.4 124.8L141.1 124.7L141.8 124.5L142.4 124.3L143.1 124.1L143.7 123.8L144.4 123.6L145.0 123.3L145.7 123.1L146.3 122.8L147.0 122.5L147.7 122.1L148.3 121.8L149.0 121.4L149.6 121.0L150.3 120.6L150.9 120.2L151.6 119.8L152.3 119.3L152.9 118.9L153.6 118.4L154.2 117.8L154.9 117.3L155.5 116.8L156.2 116.2L156.8 115.6L157.5 115.0L158.2 114.4L158.8 113.7L159.5 113.0L160.1 112.3L160.8 111.6L161.4 110.9L162.1 110.1L162.7 109.3L163.4 108.5L164.1 107.7L164.7 106.9L165.4 106.0L166.0 105.1L166.7 104.2L167.3 103.2L168.0 102.3L168.6 101.3L169.3 100.3L170.0 99.2L170.6 98.2L171.3 97.1L171.9 96.0L172.6 94.9L173.2 93.7L173.9 92.5L174.6 91.3L175.2 90.1L175.9 88.8L176.5 87.5L177.2 86.2L177.8 84.9L178.5 83.5" stroke="#FFC000"/>
<path d="M34.9 135.4L35.6 133.6L36.3 131.9L37.0 130.2L37.7 128.6L38.4 127.0L39.1 125.5L39.9 124.0L40.6 122.5L41.3 121.1L42.0 119.7L42.7 118.4L43.4 117.1L44.2 115.8L44.9 114.6L45.6 113.4L46.3 112.3L47.0 111.2L47.7 110.2L48.4 109.1L49.2 108.1L49.9 107.2L50.6 106.3L51.3 105.4L52.0 104.6L52.7 103.8L53.5 103.0L54.2 102.3L54.9 101.6L55.6 100.9L56.3 100.3L57.0 99.7L57.8 99.1L58.5 98.6L59.2 98.1L59.9 97.6L60.6 97.2L61.3 96.7L62.0 96.4L62.8 96.0L63.5 95.7L64.2 95.4L64.9 95.1L65.6 94.9L66.3 94.7L67.1 94.5L67.8 94.4L68.5 94.3L69.2 94.2L69.9 94.1L70.6 94.1L71.3 94.0L72.1 94.0L72.8 94.1L73.5 94.1L74.2 94.2L74.9 94.3L75.6 94.4L76.4 94.6L77.1 94.7L77.8 94.9L78.5 95.1L79.2 95.3L79.9 95.6L80.7 95.8L81.4 96.1L82.1 96.4L82.8 96.7L83.5 97.0L84.2 97.3L84.9 97.7L85.7 98.0L86.4 98.4L87.1 98.8L87.8 99.2L88.5 99.6L89.2 100.0L90.0 100.5L90.7 100.9L91.4 101.3L92.1 101.8L92.8 102.3L93.5 102.7L94.2 103.2L95.0 103.7L95.7 104.2L96.4 104.6L97.1 105.1L97.8 105.6L98.5 106.1L99.3 106.6L100.0 107.1L100.7 107.7L101.4 108.2L102.1 108.7L102.8 109.2L103.6 109.7L104.3 110.2L105.0 110.7L105.7 111.2L106.4 111.7L107.1 112.2L107.8 112.8L108.6 113.3L109.3 113.7L110.0 114.2L110.7 114.7L111.4 115.2L112.1 115.7L112.9 116.2L113.6 116.6L114.3 117.1L115.0 117.5L115.7 118.0L116.4 118.4L117.1 118.9L117.9 119.3L118.6 119.7L119.3 120.1L120.0 120.5L120.7 120.9L121.4 121.3L122.2 121.7L122.9 122.1L123.6 122.4L124.3 122.8L125.0 123.1L125.7 123.4L126.5 123.8L127.2 124.1L127.9 124.4L128.6 124.7L129.3 125.0L130.0 125.3L130.7 125.5L131.5 125.8L132.2 126.0L132.9 126.2L133.6 126.5L134.3 126.7L135.0 126.9L135.8 127.1L136.5 127.2L137.2 127.4L137.9 127.5L138.6 127.6L139.3 127.8L140.0 127.9L140.8 127.9L141.5 128.0L142.2 128.0L142.9 128.1L143.6 128.1L144.3 128.1L145.1 128.0L145.8 128.0L146.5 127.9L147.2 127.8L147.9 127.7L148.6 127.6L149.4 127.4L150.1 127.3L150.8 127.1L151.5 126.9L152.2 126.6L152.9 126.4L153.6 126.1L154.4 125.8L155.1 125.5L155.8 125.1L156.5 124.8L157.2 124.4L157.9 124.0L158.7 123.5L159.4 123.1L160.1 122.6L160.8 122.1L161.5 121.6L162.2 121.1L162.9 120.5L163.7 119.9L164.4 119.3L165.1 118.7L165.8 118.0L166.5 117.4L167.2 116.7L168.0 116.0L168.7 115.2L169.4 114.4L170.1 113.7L170.8 112.8L171.5 112.0L172.3 111.1L173.0 110.3L173.7 109.4L174.4 108.4L175.1 107.5L175.8 106.5L176.5 105.5L177.3 104.4L178.0 103.4L178.7 102.3L179.4 101.2L180.1 100.0L180.8 98.9L181.6 97.7L182.3 96.4L183.0 95.2L183.7 93.9L184.4 92.6L185.1 91.2L185.8 89.8L186.6 88.4L187.3 87.0L188.0 85.5L188.7 83.9L189.4 82.4L190.1 80.8L190.9 79.2L191.6 77.5" stroke="#4472C4"/>
<path d="M34.9 135.4L35.6 133.3L36.4 131.2L37.2 129.2L38.0 127.2L38.7 125.3L39.5 123.4L40.3 121.6L41.1 119.9L41.8 118.1L42.6 116.4L43.4 114.8L44.2 113.2L44.9 111.7L45.7 110.2L46.5 108.8L47.3 107.4L48.0 106.0L48.8 104.7L49.6 103.4L50.4 102.2L51.1 101.0L51.9 99.9L52.7 98.8L53.5 97.8L54.3 96.8L55.0 95.8L55.8 94.9L56.6 94.0L57.4 93.2L58.1 92.4L58.9 91.7L59.7 90.9L60.5 90.3L61.2 89.6L62.0 89.1L62.8 88.5L63.6 88.0L64.3 87.5L65.1 87.1L65.9 86.7L66.7 86.3L67.4 86.0L68.2 85.7L69.0 85.5L69.8 85.3L70.5 85.1L71.3 85.0L72.1 84.9L72.9 84.8L73.7 84.8L74.4 84.8L75.2 84.8L76.0 84.9L76.8 85.0L77.5 85.2L78.3 85.3L79.1 85.5L79.9 85.8L80.6 86.1L81.4 86.4L82.2 86.7L83.0 87.1L83.7 87.5L84.5 87.9L85.3 88.3L86.1 88.8L86.8 89.3L87.6 89.9L88.4 90.4L89.2 91.0L89.9 91.6L90.7 92.2L91.5 92.8L92.3 93.4L93.1 94.1L93.8 94.7L94.6 95.4L95.4 96.1L96.2 96.8L96.9 97.5L97.7 98.2L98.5 98.9L99.3 99.6L100.0 100.3L100.8 101.0L101.6 101.7L102.4 102.4L103.1 103.1L103.9 103.8L104.7 104.5L105.5 105.2L106.2 105.9L107.0 106.6L107.8 107.3L108.6 107.9L109.3 108.6L110.1 109.3L110.9 110.0L111.7 110.6L112.5 111.3L113.2 111.9L114.0 112.6L114.8 113.2L115.6 113.8L116.3 114.4L117.1 115.1L117.9 115.7L118.7 116.3L119.4 116.9L120.2 117.4L121.0 118.0L121.8 118.6L122.5 119.1L123.3 119.7L124.1 120.2L124.9 120.8L125.6 121.3L126.4 121.8L127.2 122.3L128.0 122.8L128.7 123.2L129.5 123.7L130.3 124.2L131.1 124.6L131.9 125.0L132.6 125.4L133.4 125.8L134.2 126.2L135.0 126.6L135.7 127.0L136.5 127.3L137.3 127.6L138.1 128.0L138.8 128.3L139.6 128.6L140.4 128.8L141.2 129.1L141.9 129.3L142.7 129.6L143.5 129.8L144.3 130.0L145.0 130.1L145.8 130.3L146.6 130.4L147.4 130.6L148.1 130.7L148.9 130.7L149.7 130.8L150.5 130.9L151.3 130.9L152.0 130.9L152.8 130.9L153.6 130.9L154.4 130.8L155.1 130.7L155.9 130.6L156.7 130.5L157.5 130.4L158.2 130.2L159.0 130.1L159.8 129.9L160.6 129.7L161.3 129.4L162.1 129.1L162.9 128.9L163.7 128.5L164.4 128.2L165.2 127.8L166.0 127.5L166.8 127.0L167.6 126.6L168.3 126.1L169.1 125.7L169.9 125.2L170.7 124.6L171.4 124.1L172.2 123.5L173.0 122.8L173.8 122.2L174.5 121.5L175.3 120.8L176.1 120.1L176.9 119.4L177.6 118.6L178.4 117.8L179.2 116.9L180.0 116.1L180.7 115.2L181.5 114.2L182.3 113.3L183.1 112.3L183.8 111.3L184.6 110.2L185.4 109.1L186.2 108.0L187.0 106.9L187.7 105.7L188.5 104.5L189.3 103.3L190.1 102.0L190.8 100.7L191.6 99.4L192.4 98.0L193.2 96.6L193.9 95.1L194.7 93.7L195.5 92.2L196.3 90.6L197.0 89.0L197.8 87.4L198.6 85.8L199.4 84.1L200.1 82.4L200.9 80.6L201.7 78.8L202.5 77.0L203.2 75.1L204.0 73.2L204.8 71.3" stroke="#70AD47"/>
<path d="M34.9 135.4L35.7 133.2L36.5 131.1L37.4 128.9L38.2 126.8L39.0 124.6L39.9 122.5L40.7 120.4L41.5 118.3L42.4 116.2L43.2 114.1L44.1 112.1L44.9 110.1L45.7 108.1L46.6 106.2L47.4 104.3L48.2 102.4L49.1 100.6L49.9 98.8L50.7 97.1L51.6 95.5L52.4 93.9L53.3 92.4L54.1 90.9L54.9 89.5L55.8 88.2L56.6 86.9L57.4 85.8L58.3 84.6L59.1 83.6L59.9 82.6L60.8 81.7L61.6 80.8L62.5 80.1L63.3 79.3L64.1 78.6L65.0 78.0L65.8 77.5L66.6 77.0L67.5 76.5L68.3 76.1L69.1 75.8L70.0 75.5L70.8 75.3L71.7 75.1L72.5 74.9L73.3 74.8L74.2 74.8L75.0 74.8L75.8 74.8L76.7 74.9L77.5 75.0L78.4 75.1L79.2 75.3L80.0 75.5L80.9 75.8L81.7 76.1L82.5 76.4L83.4 76.8L84.2 77.2L85.0 77.7L85.9 78.1L86.7 78.6L87.6 79.1L88.4 79.7L89.2 80.3L90.1 80.9L90.9 81.5L91.7 82.2L92.6 82.8L93.4 83.5L94.2 84.2L95.1 85.0L95.9 85.7L96.8 86.5L97.6 87.3L98.4 88.1L99.3 88.9L100.1 89.8L100.9 90.6L101.8 91.5L102.6 92.4L103.4 93.3L104.3 94.2L105.1 95.1L106.0 96.0L106.8 96.9L107.6 97.8L108.5 98.7L109.3 99.6L110.1 100.6L111.0 101.5L111.8 102.4L112.7 103.4L113.5 104.3L114.3 105.2L115.2 106.1L116.0 107.0L116.8 108.0L117.7 108.9L118.5 109.8L119.3 110.6L120.2 111.5L121.0 112.4L121.9 113.2L122.7 114.1L123.5 114.9L124.4 115.7L125.2 116.5L126.0 117.3L126.9 118.1L127.7 118.8L128.5 119.6L129.4 120.3L130.2 121.0L131.1 121.7L131.9 122.4L132.7 123.1L133.6 123.7L134.4 124.3L135.2 125.0L136.1 125.6L136.9 126.1L137.7 126.7L138.6 127.3L139.4 127.8L140.3 128.3L141.1 128.8L141.9 129.3L142.8 129.7L143.6 130.2L144.4 130.6L145.3 131.0L146.1 131.4L147.0 131.7L147.8 132.1L148.6 132.4L149.5 132.7L150.3 133.0L151.1 133.3L152.0 133.5L152.8 133.7L153.6 133.9L154.5 134.1L155.3 134.3L156.2 134.4L157.0 134.5L157.8 134.6L158.7 134.7L159.5 134.8L160.3 134.8L161.2 134.8L162.0 134.8L162.8 134.7L163.7 134.7L164.5 134.6L165.4 134.5L166.2 134.3L167.0 134.2L167.9 134.0L168.7 133.8L169.5 133.5L170.4 133.3L171.2 133.0L172.0 132.7L172.9 132.4L173.7 132.0L174.6 131.6L175.4 131.2L176.2 130.8L177.1 130.3L177.9 129.8L178.7 129.3L179.6 128.7L180.4 128.2L181.3 127.5L182.1 126.9L182.9 126.2L183.8 125.5L184.6 124.8L185.4 124.0L186.3 123.2L187.1 122.4L187.9 121.5L188.8 120.6L189.6 119.7L190.5 118.7L191.3 117.7L192.1 116.6L193.0 115.5L193.8 114.3L194.6 113.1L195.5 111.9L196.3 110.6L197.1 109.3L198.0 107.9L198.8 106.5L199.7 105.0L200.5 103.5L201.3 102.0L202.2 100.4L203.0 98.7L203.8 97.0L204.7 95.3L205.5 93.6L206.3 91.8L207.2 90.0L208.0 88.1L208.9 86.2L209.7 84.3L210.5 82.4L211.4 80.4L212.2 78.4L213.0 76.4L213.9 74.4L214.7 72.4L215.6 70.4L216.4 68.3L217.2 66.3L218.1 64.2" stroke="#255E91"/>
<path d="M34.9 135.4L35.7 133.2L36.6 130.8L37.5 128.3L38.4 125.8L39.3 123.2L40.2 120.5L41.1 117.8L42.0 115.1L42.9 112.3L43.8 109.6L44.7 106.9L45.6 104.2L46.5 101.6L47.4 99.0L48.3 96.5L49.2 94.1L50.1 91.8L51.0 89.5L51.9 87.4L52.8 85.3L53.7 83.3L54.6 81.5L55.5 79.7L56.4 78.0L57.3 76.4L58.2 74.9L59.1 73.5L60.0 72.3L60.9 71.1L61.8 70.0L62.7 69.0L63.6 68.1L64.5 67.3L65.4 66.6L66.2 65.9L67.1 65.4L68.0 64.9L68.9 64.5L69.8 64.2L70.7 63.9L71.6 63.7L72.5 63.6L73.4 63.6L74.3 63.6L75.2 63.7L76.1 63.8L77.0 64.0L77.9 64.2L78.8 64.5L79.7 64.8L80.6 65.2L81.5 65.6L82.4 66.1L83.3 66.6L84.2 67.2L85.1 67.7L86.0 68.4L86.9 69.0L87.8 69.7L88.7 70.4L89.6 71.2L90.5 71.9L91.4 72.7L92.3 73.6L93.2 74.4L94.1 75.3L95.0 76.2L95.9 77.1L96.8 78.0L97.6 79.0L98.5 79.9L99.4 80.9L100.3 81.9L101.2 82.9L102.1 83.9L103.0 84.9L103.9 85.9L104.8 87.0L105.7 88.0L106.6 89.0L107.5 90.1L108.4 91.1L109.3 92.1L110.2 93.2L111.1 94.2L112.0 95.2L112.9 96.2L113.8 97.3L114.7 98.3L115.6 99.3L116.5 100.3L117.4 101.3L118.3 102.3L119.2 103.3L120.1 104.3L121.0 105.2L121.9 106.2L122.8 107.2L123.7 108.1L124.6 109.1L125.5 110.0L126.4 111.0L127.3 111.9L128.2 112.8L129.0 113.7L129.9 114.6L130.8 115.5L131.7 116.4L132.6 117.3L133.5 118.1L134.4 119.0L135.3 119.8L136.2 120.6L137.1 121.4L138.0 122.2L138.9 123.0L139.8 123.8L140.7 124.5L141.6 125.3L142.5 126.0L143.4 126.7L144.3 127.4L145.2 128.1L146.1 128.7L147.0 129.4L147.9 130.0L148.8 130.6L149.7 131.2L150.6 131.8L151.5 132.3L152.4 132.9L153.3 133.4L154.2 133.9L155.1 134.3L156.0 134.8L156.9 135.2L157.8 135.6L158.7 136.0L159.6 136.4L160.4 136.7L161.3 137.1L162.2 137.4L163.1 137.6L164.0 137.9L164.9 138.1L165.8 138.3L166.7 138.5L167.6 138.6L168.5 138.7L169.4 138.8L170.3 138.9L171.2 138.9L172.1 139.0L173.0 138.9L173.9 138.9L174.8 138.8L175.7 138.7L176.6 138.6L177.5 138.4L178.4 138.2L179.3 138.0L180.2 137.7L181.1 137.4L182.0 137.1L182.9 136.7L183.8 136.4L184.7 135.9L185.6 135.5L186.5 135.0L187.4 134.4L188.3 133.9L189.2 133.3L190.1 132.6L191.0 132.0L191.8 131.3L192.7 130.5L193.6 129.7L194.5 128.9L195.4 128.0L196.3 127.1L197.2 126.2L198.1 125.2L199.0 124.2L199.9 123.1L200.8 122.0L201.7 120.9L202.6 119.7L203.5 118.5L204.4 117.2L205.3 115.9L206.2 114.6L207.1 113.2L208.0 111.7L208.9 110.2L209.8 108.7L210.7 107.1L211.6 105.5L212.5 103.8L213.4 102.1L214.3 100.3L215.2 98.5L216.1 96.7L217.0 94.7L217.9 92.8L218.8 90.8L219.7 88.7L220.6 86.6L221.5 84.5L222.4 82.3L223.2 80.0L224.1 77.7L225.0 75.3L225.9 72.9L226.8 70.4L227.7 67.9L228.6 65.4L229.5 62.7L230.4 60.0L231.3 57.3" stroke="#9E480E"/>
<path d="M34.9 135.4L35.8 133.3L36.8 130.8L37.7 128.2L38.7 125.3L39.6 122.2L40.6 118.9L41.6 115.5L42.5 112.1L43.5 108.5L44.4 105.0L45.4 101.4L46.3 97.8L47.3 94.3L48.3 90.9L49.2 87.6L50.2 84.4L51.1 81.4L52.1 78.5L53.0 75.9L54.0 73.4L55.0 71.2L55.9 69.2L56.9 67.3L57.8 65.7L58.8 64.1L59.7 62.6L60.7 61.3L61.7 60.0L62.6 58.8L63.6 57.7L64.5 56.7L65.5 55.7L66.4 54.9L67.4 54.1L68.4 53.5L69.3 52.9L70.3 52.4L71.2 52.0L72.2 51.8L73.2 51.6L74.1 51.5L75.1 51.6L76.0 51.7L77.0 52.0L77.9 52.4L78.9 52.8L79.9 53.4L80.8 54.0L81.8 54.7L82.7 55.5L83.7 56.3L84.6 57.2L85.6 58.2L86.6 59.2L87.5 60.2L88.5 61.3L89.4 62.3L90.4 63.4L91.3 64.5L92.3 65.7L93.3 66.8L94.2 67.9L95.2 68.9L96.1 70.0L97.1 71.1L98.0 72.2L99.0 73.2L100.0 74.3L100.9 75.3L101.9 76.4L102.8 77.4L103.8 78.5L104.8 79.5L105.7 80.5L106.7 81.5L107.6 82.6L108.6 83.6L109.5 84.6L110.5 85.6L111.5 86.6L112.4 87.6L113.4 88.6L114.3 89.6L115.3 90.6L116.2 91.6L117.2 92.6L118.2 93.6L119.1 94.6L120.1 95.6L121.0 96.6L122.0 97.6L122.9 98.5L123.9 99.5L124.9 100.5L125.8 101.5L126.8 102.5L127.7 103.5L128.7 104.5L129.6 105.5L130.6 106.5L131.6 107.5L132.5 108.5L133.5 109.5L134.4 110.5L135.4 111.6L136.3 112.6L137.3 113.6L138.3 114.6L139.2 115.7L140.2 116.7L141.1 117.7L142.1 118.8L143.1 119.8L144.0 120.9L145.0 122.0L145.9 123.0L146.9 124.1L147.8 125.2L148.8 126.2L149.8 127.3L150.7 128.3L151.7 129.3L152.6 130.3L153.6 131.2L154.5 132.1L155.5 133.0L156.5 133.8L157.4 134.6L158.4 135.4L159.3 136.1L160.3 136.7L161.2 137.4L162.2 138.0L163.2 138.5L164.1 139.0L165.1 139.5L166.0 139.9L167.0 140.3L167.9 140.7L168.9 141.1L169.9 141.4L170.8 141.6L171.8 141.9L172.7 142.1L173.7 142.3L174.7 142.4L175.6 142.6L176.6 142.7L177.5 142.8L178.5 142.8L179.4 142.8L180.4 142.8L181.4 142.8L182.3 142.8L183.3 142.7L184.2 142.6L185.2 142.4L186.1 142.3L187.1 142.1L188.1 141.8L189.0 141.6L190.0 141.3L190.9 140.9L191.9 140.6L192.8 140.2L193.8 139.7L194.8 139.3L195.7 138.7L196.7 138.2L197.6 137.6L198.6 137.0L199.5 136.3L200.5 135.6L201.5 134.8L202.4 134.0L203.4 133.2L204.3 132.3L205.3 131.4L206.2 130.5L207.2 129.5L208.2 128.4L209.1 127.4L210.1 126.2L211.0 125.1L212.0 123.9L213.0 122.6L213.9 121.3L214.9 120.0L215.8 118.6L216.8 117.2L217.7 115.7L218.7 114.2L219.7 112.6L220.6 111.0L221.6 109.3L222.5 107.6L223.5 105.9L224.4 104.1L225.4 102.2L226.4 100.3L227.3 98.4L228.3 96.4L229.2 94.3L230.2 92.2L231.1 89.9L232.1 87.7L233.1 85.3L234.0 82.9L235.0 80.3L235.9 77.7L236.9 75.0L237.8 72.2L238.8 69.3L239.8 66.3L240.7 63.2L241.7 60.0L242.6 56.6L243.6 53.2L244.6 49.6" stroke="#636363"/>
<path d="M34.9 135.4L35.9 133.3L36.9 130.7L37.9 127.7L38.9 124.3L39.9 120.5L41.0 116.4L42.0 112.2L43.0 107.7L44.0 103.2L45.0 98.7L46.0 94.2L47.1 89.8L48.1 85.5L49.1 81.4L50.1 77.5L51.1 73.9L52.2 70.6L53.2 67.5L54.2 64.7L55.2 62.0L56.2 59.6L57.2 57.3L58.3 55.2L59.3 53.2L60.3 51.4L61.3 49.8L62.3 48.2L63.4 46.9L64.4 45.6L65.4 44.5L66.4 43.5L67.4 42.6L68.4 41.9L69.5 41.2L70.5 40.6L71.5 40.1L72.5 39.7L73.5 39.4L74.6 39.6L75.6 40.5L76.6 41.5L77.6 42.4L78.6 43.4L79.6 44.4L80.7 45.4L81.7 46.4L82.7 47.4L83.7 48.4L84.7 49.4L85.8 50.5L86.8 51.5L87.8 52.5L88.8 53.6L89.8 54.6L90.8 55.7L91.9 56.8L92.9 57.8L93.9 58.9L94.9 60.0L95.9 61.1L97.0 62.1L98.0 63.2L99.0 64.3L100.0 65.4L101.0 66.5L102.0 67.6L103.1 68.7L104.1 69.8L105.1 71.0L106.1 72.1L107.1 73.2L108.2 74.3L109.2 75.4L110.2 76.6L111.2 77.7L112.2 78.8L113.2 79.9L114.3 81.1L115.3 82.2L116.3 83.3L117.3 84.5L118.3 85.6L119.4 86.7L120.4 87.9L121.4 89.0L122.4 90.1L123.4 91.3L124.4 92.4L125.5 93.5L126.5 94.7L127.5 95.8L128.5 96.9L129.5 98.1L130.6 99.2L131.6 100.3L132.6 101.5L133.6 102.6L134.6 103.8L135.6 104.9L136.7 106.1L137.7 107.2L138.7 108.4L139.7 109.5L140.7 110.7L141.7 111.9L142.8 113.1L143.8 114.3L144.8 115.5L145.8 116.7L146.8 117.9L147.9 119.1L148.9 120.3L149.9 121.5L150.9 122.8L151.9 124.0L152.9 125.3L154.0 126.5L155.0 127.7L156.0 129.0L157.0 130.2L158.0 131.3L159.1 132.5L160.1 133.6L161.1 134.7L162.1 135.8L163.1 136.8L164.1 137.8L165.2 138.7L166.2 139.6L167.2 140.4L168.2 141.1L169.2 141.8L170.3 142.5L171.3 143.1L172.3 143.6L173.3 144.1L174.3 144.6L175.3 145.0L176.4 145.4L177.4 145.8L178.4 146.2L179.4 146.5L180.4 146.8L181.5 147.1L182.5 147.4L183.5 147.6L184.5 147.8L185.5 147.9L186.5 148.0L187.6 148.1L188.6 148.2L189.6 148.2L190.6 148.2L191.6 148.1L192.7 148.0L193.7 147.8L194.7 147.6L195.7 147.3L196.7 147.0L197.7 146.7L198.8 146.2L199.8 145.8L200.8 145.3L201.8 144.7L202.8 144.0L203.9 143.3L204.9 142.6L205.9 141.8L206.9 140.9L207.9 140.0L208.9 139.1L210.0 138.1L211.0 137.0L212.0 136.0L213.0 134.9L214.0 133.7L215.1 132.6L216.1 131.4L217.1 130.2L218.1 128.9L219.1 127.7L220.1 126.4L221.2 125.1L222.2 123.8L223.2 122.5L224.2 121.2L225.2 119.8L226.3 118.5L227.3 117.2L228.3 115.8L229.3 114.4L230.3 113.0L231.3 111.5L232.4 110.0L233.4 108.5L234.4 106.9L235.4 105.3L236.4 103.6L237.5 101.8L238.5 100.0L239.5 98.1L240.5 96.1L241.5 94.0L242.5 91.8L243.6 89.6L244.6 87.2L245.6 84.8L246.6 82.2L247.6 79.4L248.6 76.6L249.7 73.5L250.7 70.3L251.7 66.9L252.7 63.2L253.7 59.4L254.8 55.3L255.8 51.0L256.8 46.3L257.8 41.4" stroke="#997300"/>
</g>
<rect x="34.9" y="9.8" width="228.0" height="152.7" fill="none" stroke="#333" stroke-width="1.05"/>
<text x="34.9" y="174.3" class="t" text-anchor="middle">0</text>
<text x="52.4" y="174.3" class="t" text-anchor="middle">0.5</text>
<text x="69.9" y="174.3" class="t" text-anchor="middle">1</text>
<text x="87.5" y="174.3" class="t" text-anchor="middle">1.5</text>
<text x="105.0" y="174.3" class="t" text-anchor="middle">2</text>
<text x="122.6" y="174.3" class="t" text-anchor="middle">2.5</text>
<text x="140.1" y="174.3" class="t" text-anchor="middle">3</text>
<text x="157.6" y="174.3" class="t" text-anchor="middle">3.5</text>
<text x="175.2" y="174.3" class="t" text-anchor="middle">4</text>
<text x="192.7" y="174.3" class="t" text-anchor="middle">4.5</text>
<text x="210.3" y="174.3" class="t" text-anchor="middle">5</text>
<text x="227.8" y="174.3" class="t" text-anchor="middle">5.5</text>
<text x="245.4" y="174.3" class="t" text-anchor="middle">6</text>
<text x="262.9" y="174.3" class="t" text-anchor="middle">6.5</text>
<text x="28.5" y="164.8" class="t" text-anchor="end">−1</text>
<text x="28.5" y="139.4" class="t" text-anchor="end">0</text>
<text x="28.5" y="113.9" class="t" text-anchor="end">1</text>
<text x="28.5" y="88.5" class="t" text-anchor="end">2</text>
<text x="28.5" y="63.0" class="t" text-anchor="end">3</text>
<text x="28.5" y="37.5" class="t" text-anchor="end">4</text>
<text x="28.5" y="12.1" class="t" text-anchor="end">5</text>
<path d="M52.4 162.5v-2.3M52.4 9.8v2.3M69.9 162.5v-2.3M69.9 9.8v2.3M87.5 162.5v-2.3M87.5 9.8v2.3M105.0 162.5v-2.3M105.0 9.8v2.3M122.6 162.5v-2.3M122.6 9.8v2.3M140.1 162.5v-2.3M140.1 9.8v2.3M157.6 162.5v-2.3M157.6 9.8v2.3M175.2 162.5v-2.3M175.2 9.8v2.3M192.7 162.5v-2.3M192.7 9.8v2.3M210.3 162.5v-2.3M210.3 9.8v2.3M227.8 162.5v-2.3M227.8 9.8v2.3M245.4 162.5v-2.3M245.4 9.8v2.3M34.9 137.1h2.3M262.9 137.1h-2.3M34.9 111.6h2.3M262.9 111.6h-2.3M34.9 86.2h2.3M262.9 86.2h-2.3M34.9 60.7h2.3M262.9 60.7h-2.3M34.9 35.2h2.3M262.9 35.2h-2.3" stroke="#222" stroke-width="0.9" fill="none"/>
<rect x="311.5" y="9.8" width="227.8" height="152.6" fill="none" stroke="#333" stroke-width="1.05"/>
<text x="311.5" y="174.2" class="t" text-anchor="middle">0</text>
<text x="340.0" y="174.2" class="t" text-anchor="middle">0.5</text>
<text x="368.4" y="174.2" class="t" text-anchor="middle">1</text>
<text x="396.9" y="174.2" class="t" text-anchor="middle">1.5</text>
<text x="425.4" y="174.2" class="t" text-anchor="middle">2</text>
<text x="453.9" y="174.2" class="t" text-anchor="middle">2.5</text>
<text x="482.3" y="174.2" class="t" text-anchor="middle">3</text>
<text x="510.8" y="174.2" class="t" text-anchor="middle">3.5</text>
<text x="539.3" y="174.2" class="t" text-anchor="middle">4</text>
<text x="305.1" y="164.7" class="t" text-anchor="end">0</text>
<text x="305.1" y="145.6" class="t" text-anchor="end">0.2</text>
<text x="305.1" y="126.5" class="t" text-anchor="end">0.4</text>
<text x="305.1" y="107.5" class="t" text-anchor="end">0.6</text>
<text x="305.1" y="88.4" class="t" text-anchor="end">0.8</text>
<text x="305.1" y="69.3" class="t" text-anchor="end">1</text>
<text x="305.1" y="50.2" class="t" text-anchor="end">1.2</text>
<text x="305.1" y="31.2" class="t" text-anchor="end">1.4</text>
<text x="305.1" y="12.1" class="t" text-anchor="end">1.6</text>
<path d="M340.0 162.4v-2.3M368.4 162.4v-2.3M396.9 162.4v-2.3M425.4 162.4v-2.3M453.9 162.4v-2.3M482.3 162.4v-2.3M510.8 162.4v-2.3M344.0 9.8v2.3M376.6 9.8v2.3M409.1 9.8v2.3M441.7 9.8v2.3M474.2 9.8v2.3M506.8 9.8v2.3M311.5 143.3h2.3M539.3 143.3h-2.3M311.5 124.2h2.3M539.3 124.2h-2.3M311.5 105.2h2.3M539.3 105.2h-2.3M311.5 86.1h2.3M539.3 86.1h-2.3M311.5 67.0h2.3M539.3 67.0h-2.3M311.5 47.9h2.3M539.3 47.9h-2.3M311.5 28.9h2.3M539.3 28.9h-2.3" stroke="#222" stroke-width="0.9" fill="none"/>
<rect x="34.9" y="211.6" width="227.8" height="152.8" fill="none" stroke="#333" stroke-width="1.05"/>
<text x="34.9" y="376.2" class="t" text-anchor="middle">0</text>
<text x="72.8" y="376.2" class="t" text-anchor="middle">0.5</text>
<text x="110.8" y="376.2" class="t" text-anchor="middle">1</text>
<text x="148.7" y="376.2" class="t" text-anchor="middle">1.5</text>
<text x="186.7" y="376.2" class="t" text-anchor="middle">2</text>
<text x="224.6" y="376.2" class="t" text-anchor="middle">2.5</text>
<text x="262.6" y="376.2" class="t" text-anchor="middle">3</text>
<text x="28.5" y="366.7" class="t" text-anchor="end">0</text>
<text x="28.5" y="341.2" class="t" text-anchor="end">1</text>
<text x="28.5" y="315.8" class="t" text-anchor="end">2</text>
<text x="28.5" y="290.3" class="t" text-anchor="end">3</text>
<text x="28.5" y="264.8" class="t" text-anchor="end">4</text>
<text x="28.5" y="239.4" class="t" text-anchor="end">5</text>
<text x="28.5" y="213.9" class="t" text-anchor="end">6</text>
<path d="M72.8 364.4v-2.3M110.8 364.4v-2.3M148.7 364.4v-2.3M186.7 364.4v-2.3M224.6 364.4v-2.3M67.4 211.6v2.3M99.9 211.6v2.3M132.5 211.6v2.3M165.0 211.6v2.3M197.5 211.6v2.3M230.1 211.6v2.3M34.9 338.9h2.3M262.6 338.9h-2.3M34.9 313.5h2.3M262.6 313.5h-2.3M34.9 288.0h2.3M262.6 288.0h-2.3M34.9 262.5h2.3M262.6 262.5h-2.3M34.9 237.1h2.3M262.6 237.1h-2.3" stroke="#222" stroke-width="0.9" fill="none"/>
<rect x="311.6" y="211.6" width="227.7" height="152.8" fill="none" stroke="#333" stroke-width="1.05"/>
<text x="311.6" y="376.2" class="t" text-anchor="middle">0</text>
<text x="349.6" y="376.2" class="t" text-anchor="middle">0.5</text>
<text x="387.5" y="376.2" class="t" text-anchor="middle">1</text>
<text x="425.4" y="376.2" class="t" text-anchor="middle">1.5</text>
<text x="463.4" y="376.2" class="t" text-anchor="middle">2</text>
<text x="501.3" y="376.2" class="t" text-anchor="middle">2.5</text>
<text x="539.3" y="376.2" class="t" text-anchor="middle">3</text>
<text x="305.2" y="366.7" class="t" text-anchor="end">−1</text>
<text x="305.2" y="341.2" class="t" text-anchor="end">0</text>
<text x="305.2" y="315.8" class="t" text-anchor="end">1</text>
<text x="305.2" y="290.3" class="t" text-anchor="end">2</text>
<text x="305.2" y="264.8" class="t" text-anchor="end">3</text>
<text x="305.2" y="239.4" class="t" text-anchor="end">4</text>
<text x="305.2" y="213.9" class="t" text-anchor="end">5</text>
<path d="M349.6 364.4v-2.3M349.6 211.6v2.3M387.5 364.4v-2.3M387.5 211.6v2.3M425.4 364.4v-2.3M425.4 211.6v2.3M463.4 364.4v-2.3M463.4 211.6v2.3M501.3 364.4v-2.3M501.3 211.6v2.3M311.6 338.9h2.3M539.3 338.9h-2.3M311.6 313.5h2.3M539.3 313.5h-2.3M311.6 288.0h2.3M539.3 288.0h-2.3M311.6 262.5h2.3M539.3 262.5h-2.3M311.6 237.1h2.3M539.3 237.1h-2.3" stroke="#222" stroke-width="0.9" fill="none"/>

<text x="145" y="184.7" class="l" text-anchor="middle">Displacement (mm)</text>
<text x="421.5" y="184.7" class="l" text-anchor="middle">Displacement (mm)</text>
<text x="145" y="386.8" class="l" text-anchor="middle">Displacement (mm)</text>
<text x="421.5" y="386.8" class="l" text-anchor="middle">Displacement (mm)</text>
<text transform="translate(15.2 88) rotate(-90)" class="l" text-anchor="middle">Force (N)</text>
<text transform="translate(287.7 88) rotate(-90)" class="l" text-anchor="middle">Force (N)</text>
<text transform="translate(13.4 289.5) rotate(-90)" class="l" text-anchor="middle">Force (N)</text>
<text transform="translate(289.2 290) rotate(-90)" class="l" text-anchor="middle">Force (N)</text>
<text x="136.2" y="196.5" class="s" text-anchor="middle">(a)</text>
<text x="413" y="196.5" class="s" text-anchor="middle">(b)</text>
<text x="136.2" y="398.7" class="s" text-anchor="middle">(c)</text>
<text x="413" y="398.7" class="s" text-anchor="middle">(d)</text>


<g class="an">
<text x="105" y="69"><tspan font-style="italic">θ</tspan>=4</text>
<text x="122" y="69">°</text>
<text x="132.8" y="69">: 0.5</text>
<text x="150.8" y="69">°</text>
<text x="162" y="69">: 8.5</text>
<text x="181" y="69">°</text>
<text x="332" y="141.6" style="font-size:10.6px"><tspan font-style="italic">l</tspan><tspan font-style="italic" style="font-size:6.8px" dy="1">b</tspan><tspan dy="-1">=25mm:1mm:34mm</tspan></text>
<text x="99.2" y="293.3" style="font-size:10.6px"><tspan font-style="italic">t</tspan><tspan font-style="italic" style="font-size:6.8px" dy="1">b</tspan><tspan dy="-1">=1mm: 1mm: 10mm</tspan></text>
<text x="346.5" y="282.9" style="font-size:10.6px"><tspan font-style="italic">w</tspan><tspan font-style="italic" style="font-size:6.8px" dy="1">b</tspan><tspan dy="-1">=0.5mm: 0.1mm: 1.4mm</tspan></text>
</g>

<path d="M82.2 131.3L110.7 75.3" stroke="#222" stroke-width="0.8" fill="none"/><path d="M112.6 71.6L112.0 76.0L109.4 74.7Z" fill="#222"/><path d="M387.9 88.4L372.6 122.6" stroke="#222" stroke-width="0.8" fill="none"/><path d="M370.9 126.4L371.2 122.0L374.0 123.2Z" fill="#222"/><path d="M102.7 360.5L128.1 305.1" stroke="#222" stroke-width="0.8" fill="none"/><path d="M129.9 301.3L129.5 305.7L126.8 304.5Z" fill="#222"/><path d="M373.5 342.3L397.8 291.8" stroke="#222" stroke-width="0.8" fill="none"/><path d="M399.6 288.0L399.1 292.4L396.4 291.1Z" fill="#222"/>
</svg>
</body></html>
